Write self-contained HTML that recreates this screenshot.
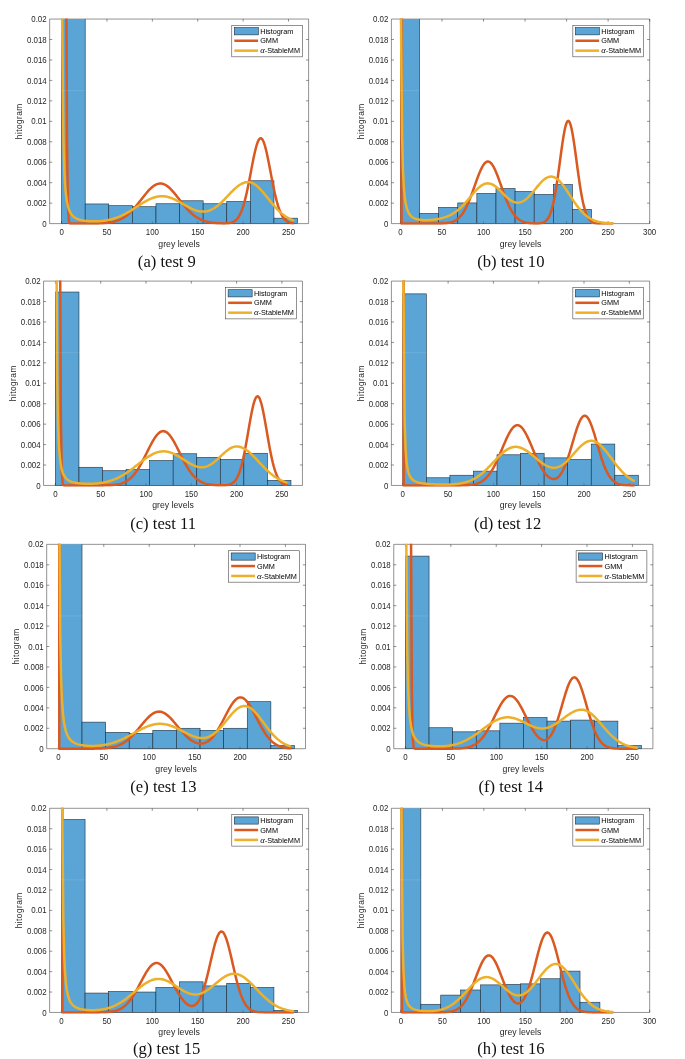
<!DOCTYPE html>
<html lang="en"><head><meta charset="utf-8"><title>Histogram fits: GMM vs alpha-Stable MM</title>
<style>
html,body{margin:0;padding:0;background:#fff}
body{width:685px;height:1059px;overflow:hidden}
svg{display:block}
text{fill:#262626;font-family:"Liberation Sans",Arial,Helvetica,sans-serif}
.tk{font-size:8.4px}
.lb{font-size:8.7px}
.yl{font-size:8.4px;letter-spacing:0.42px}
.lg text{font-size:7.3px;fill:#000}
.al{font-family:"Liberation Serif","DejaVu Serif",serif;font-style:italic;font-size:8.6px}
.cap{font-family:"Liberation Serif","Times New Roman",serif;font-size:16.6px;fill:#111}
</style></head><body>
<svg width="685" height="1059" viewBox="0 0 685 1059">
<rect width="685" height="1059" fill="#fff"/>
<g id="plot-a">
<clipPath id="cpa"><rect x="49.65" y="19.05" width="258.95" height="204.55"/></clipPath>
<clipPath id="cqa"><rect x="48.65" y="18.45" width="260.95" height="206.35"/></clipPath>
<path d="M49.65 19.05H308.6V223.6H49.65ZM61.6 223.6v-2.6M61.6 19.05v2.6M106.97 223.6v-2.6M106.97 19.05v2.6M152.35 223.6v-2.6M152.35 19.05v2.6M197.72 223.6v-2.6M197.72 19.05v2.6M243.1 223.6v-2.6M243.1 19.05v2.6M288.48 223.6v-2.6M288.48 19.05v2.6M49.65 203.14h2.6M308.6 203.14h-2.6M49.65 182.69h2.6M308.6 182.69h-2.6M49.65 162.24h2.6M308.6 162.24h-2.6M49.65 141.78h2.6M308.6 141.78h-2.6M49.65 121.33h2.6M308.6 121.33h-2.6M49.65 100.87h2.6M308.6 100.87h-2.6M49.65 80.41h2.6M308.6 80.41h-2.6M49.65 59.96h2.6M308.6 59.96h-2.6M49.65 39.51h2.6M308.6 39.51h-2.6" stroke="#262626" stroke-width="0.5" fill="none"/>
<g clip-path="url(#cpa)" fill="#5aa5d5" stroke="#1f2d3a" stroke-width="0.6">
<rect x="61.6" y="-83.22" width="23.59" height="306.82"/>
<rect x="85.19" y="203.96" width="23.59" height="19.64"/>
<rect x="108.79" y="205.7" width="23.59" height="17.9"/>
<rect x="132.38" y="206.72" width="23.59" height="16.88"/>
<rect x="155.98" y="203.76" width="23.59" height="19.84"/>
<rect x="179.57" y="200.79" width="23.59" height="22.81"/>
<rect x="203.17" y="203.76" width="23.59" height="19.84"/>
<rect x="226.76" y="201.51" width="23.59" height="22.09"/>
<rect x="250.36" y="180.75" width="23.59" height="42.85"/>
<rect x="273.95" y="218.18" width="23.6" height="5.42"/>
</g>
<path d="M61.6 223.6H297.55M61.6 223.6v-2.6M106.97 223.6v-2.6M152.35 223.6v-2.6M197.72 223.6v-2.6M243.1 223.6v-2.6M288.48 223.6v-2.6" stroke="#262626" stroke-opacity="0.45" stroke-width="0.5" fill="none"/>
<polyline clip-path="url(#cqa)" fill="none" stroke="#da5920" stroke-width="2.5" stroke-linejoin="round" stroke-linecap="round" points="61.6,-40.95 62.51,-40.95 63.41,-40.95 64.32,-40.95 65.23,-40.95 66.14,-40.95 67.05,144.86 67.95,208.1 68.86,221.22 69.77,223.32 70.67,223.57 71.58,223.6 72.49,223.6 73.4,223.6 74.31,223.6 75.21,223.6 76.12,223.6 77.03,223.6 77.94,223.6 78.84,223.6 79.75,223.6 80.66,223.59 81.56,223.59 82.47,223.59 83.38,223.59 84.29,223.59 85.19,223.59 86.1,223.58 87.01,223.58 87.92,223.57 88.83,223.57 89.73,223.56 90.64,223.56 91.55,223.55 92.45,223.54 93.36,223.53 94.27,223.51 95.18,223.5 96.09,223.48 96.99,223.46 97.9,223.43 98.81,223.4 99.72,223.37 100.62,223.33 101.53,223.29 102.44,223.24 103.34,223.18 104.25,223.11 105.16,223.04 106.07,222.96 106.97,222.86 107.88,222.76 108.79,222.64 109.7,222.5 110.6,222.35 111.51,222.19 112.42,222 113.33,221.8 114.23,221.57 115.14,221.32 116.05,221.04 116.96,220.74 117.87,220.41 118.77,220.05 119.68,219.66 120.59,219.23 121.5,218.77 122.4,218.28 123.31,217.74 124.22,217.17 125.12,216.56 126.03,215.91 126.94,215.22 127.85,214.48 128.75,213.71 129.66,212.89 130.57,212.04 131.48,211.14 132.38,210.21 133.29,209.23 134.2,208.23 135.11,207.19 136.01,206.12 136.92,205.02 137.83,203.9 138.74,202.77 139.65,201.61 140.55,200.45 141.46,199.28 142.37,198.11 143.28,196.95 144.18,195.8 145.09,194.67 146,193.56 146.91,192.47 147.81,191.43 148.72,190.42 149.63,189.47 150.53,188.56 151.44,187.72 152.35,186.94 153.26,186.23 154.16,185.59 155.07,185.04 155.98,184.56 156.89,184.17 157.79,183.87 158.7,183.66 159.61,183.54 160.52,183.51 161.43,183.57 162.33,183.73 163.24,183.98 164.15,184.32 165.06,184.74 165.96,185.25 166.87,185.84 167.78,186.51 168.69,187.24 169.59,188.05 170.5,188.92 171.41,189.84 172.31,190.82 173.22,191.84 174.13,192.9 175.04,194 175.94,195.12 176.85,196.26 177.76,197.42 178.67,198.58 179.57,199.75 180.48,200.92 181.39,202.08 182.3,203.22 183.2,204.35 184.11,205.46 185.02,206.55 185.93,207.61 186.84,208.63 187.74,209.63 188.65,210.58 189.56,211.5 190.47,212.38 191.37,213.22 192.28,214.02 193.19,214.78 194.09,215.5 195,216.18 195.91,216.81 196.82,217.41 197.72,217.96 198.63,218.48 199.54,218.96 200.45,219.41 201.35,219.82 202.26,220.2 203.17,220.55 204.08,220.86 204.98,221.16 205.89,221.42 206.8,221.66 207.71,221.88 208.61,222.08 209.52,222.26 210.43,222.41 211.34,222.56 212.24,222.69 213.15,222.8 214.06,222.9 214.97,222.99 215.88,223.07 216.78,223.14 217.69,223.2 218.6,223.25 219.5,223.29 220.41,223.33 221.32,223.36 222.23,223.38 223.13,223.39 224.04,223.39 224.95,223.38 225.86,223.35 226.76,223.31 227.67,223.24 228.58,223.15 229.49,223.02 230.39,222.84 231.3,222.62 232.21,222.32 233.12,221.95 234.02,221.48 234.93,220.89 235.84,220.17 236.75,219.28 237.66,218.22 238.56,216.94 239.47,215.43 240.38,213.66 241.28,211.6 242.19,209.25 243.1,206.58 244.01,203.59 244.91,200.27 245.82,196.64 246.73,192.7 247.64,188.49 248.54,184.05 249.45,179.42 250.36,174.68 251.27,169.88 252.17,165.13 253.08,160.49 253.99,156.07 254.9,151.95 255.8,148.23 256.71,145 257.62,142.33 258.53,140.28 259.44,138.91 260.34,138.26 261.25,138.33 262.16,139.13 263.06,140.64 263.97,142.82 264.88,145.61 265.79,148.94 266.69,152.75 267.6,156.93 268.51,161.4 269.42,166.07 270.32,170.84 271.23,175.63 272.14,180.36 273.05,184.95 273.95,189.35 274.86,193.51 275.77,197.39 276.68,200.97 277.58,204.22 278.49,207.15 279.4,209.75 280.31,212.04 281.21,214.04 282.12,215.76 283.03,217.22 283.94,218.46 284.85,219.49 285.75,220.34 286.66,221.04 287.57,221.6 288.48,222.06 289.38,222.42 290.29,222.7 291.2,222.92 292.11,223.1 293.01,223.23"/>
<polyline clip-path="url(#cqa)" fill="none" stroke="#ecb02b" stroke-width="2.5" stroke-linejoin="round" stroke-linecap="round" points="61.6,-40.95 62.51,53.62 63.41,138.58 64.32,170.82 65.23,186.93 66.14,196.28 67.05,202.26 67.95,206.35 68.86,209.3 69.77,211.49 70.67,213.18 71.58,214.51 72.49,215.58 73.4,216.45 74.31,217.17 75.21,217.78 76.12,218.29 77.03,218.73 77.94,219.11 78.84,219.44 79.75,219.72 80.66,219.97 81.56,220.19 82.47,220.38 83.38,220.55 84.29,220.69 85.19,220.82 86.1,220.93 87.01,221.03 87.92,221.11 88.83,221.18 89.73,221.24 90.64,221.29 91.55,221.32 92.45,221.34 93.36,221.36 94.27,221.36 95.18,221.35 96.09,221.33 96.99,221.3 97.9,221.26 98.81,221.22 99.72,221.15 100.62,221.08 101.53,221 102.44,220.91 103.34,220.8 104.25,220.68 105.16,220.55 106.07,220.41 106.97,220.25 107.88,220.08 108.79,219.89 109.7,219.69 110.6,219.48 111.51,219.25 112.42,219.01 113.33,218.74 114.23,218.47 115.14,218.18 116.05,217.87 116.96,217.54 117.87,217.2 118.77,216.84 119.68,216.47 120.59,216.07 121.5,215.67 122.4,215.24 123.31,214.8 124.22,214.35 125.12,213.87 126.03,213.39 126.94,212.89 127.85,212.38 128.75,211.85 129.66,211.31 130.57,210.77 131.48,210.21 132.38,209.64 133.29,209.07 134.2,208.49 135.11,207.9 136.01,207.32 136.92,206.73 137.83,206.14 138.74,205.55 139.65,204.96 140.55,204.38 141.46,203.81 142.37,203.24 143.28,202.69 144.18,202.15 145.09,201.62 146,201.1 146.91,200.6 147.81,200.12 148.72,199.67 149.63,199.23 150.53,198.82 151.44,198.43 152.35,198.07 153.26,197.74 154.16,197.44 155.07,197.17 155.98,196.93 156.89,196.73 157.79,196.55 158.7,196.41 159.61,196.31 160.52,196.24 161.43,196.21 162.33,196.21 163.24,196.24 164.15,196.31 165.06,196.42 165.96,196.56 166.87,196.74 167.78,196.94 168.69,197.18 169.59,197.45 170.5,197.75 171.41,198.08 172.31,198.43 173.22,198.81 174.13,199.21 175.04,199.63 175.94,200.08 176.85,200.54 177.76,201.02 178.67,201.51 179.57,202.01 180.48,202.52 181.39,203.04 182.3,203.57 183.2,204.09 184.11,204.62 185.02,205.14 185.93,205.66 186.84,206.17 187.74,206.67 188.65,207.16 189.56,207.64 190.47,208.1 191.37,208.54 192.28,208.96 193.19,209.36 194.09,209.73 195,210.07 195.91,210.38 196.82,210.67 197.72,210.91 198.63,211.13 199.54,211.31 200.45,211.44 201.35,211.54 202.26,211.6 203.17,211.62 204.08,211.59 204.98,211.51 205.89,211.39 206.8,211.23 207.71,211.02 208.61,210.76 209.52,210.45 210.43,210.1 211.34,209.7 212.24,209.25 213.15,208.76 214.06,208.22 214.97,207.64 215.88,207.01 216.78,206.34 217.69,205.64 218.6,204.89 219.5,204.12 220.41,203.3 221.32,202.46 222.23,201.59 223.13,200.7 224.04,199.79 224.95,198.86 225.86,197.92 226.76,196.96 227.67,196.01 228.58,195.05 229.49,194.09 230.39,193.15 231.3,192.21 232.21,191.29 233.12,190.39 234.02,189.52 234.93,188.68 235.84,187.87 236.75,187.1 237.66,186.38 238.56,185.69 239.47,185.06 240.38,184.49 241.28,183.96 242.19,183.5 243.1,183.1 244.01,182.77 244.91,182.5 245.82,182.3 246.73,182.17 247.64,182.11 248.54,182.12 249.45,182.21 250.36,182.39 251.27,182.65 252.17,182.99 253.08,183.42 253.99,183.91 254.9,184.49 255.8,185.13 256.71,185.84 257.62,186.61 258.53,187.44 259.44,188.33 260.34,189.26 261.25,190.24 262.16,191.26 263.06,192.31 263.97,193.39 264.88,194.49 265.79,195.61 266.69,196.74 267.6,197.87 268.51,199.01 269.42,200.15 270.32,201.28 271.23,202.4 272.14,203.51 273.05,204.59 273.95,205.66 274.86,206.7 275.77,207.71 276.68,208.69 277.58,209.64 278.49,210.55 279.4,211.43 280.31,212.28 281.21,213.08 282.12,213.85 283.03,214.58 283.94,215.27 284.85,215.93 285.75,216.55 286.66,217.13 287.57,217.67 288.48,218.18 289.38,218.65 290.29,219.1 291.2,219.51 292.11,219.89 293.01,220.24"/>
<path d="M60.6 90.65h25.09" stroke="#fff" stroke-opacity="0.16" stroke-width="0.7"/>
<text class="tk" text-anchor="middle" transform="translate(61.6 234.8) scale(0.94 1)">0</text>
<text class="tk" text-anchor="middle" transform="translate(106.97 234.8) scale(0.94 1)">50</text>
<text class="tk" text-anchor="middle" transform="translate(152.35 234.8) scale(0.94 1)">100</text>
<text class="tk" text-anchor="middle" transform="translate(197.72 234.8) scale(0.94 1)">150</text>
<text class="tk" text-anchor="middle" transform="translate(243.1 234.8) scale(0.94 1)">200</text>
<text class="tk" text-anchor="middle" transform="translate(288.48 234.8) scale(0.94 1)">250</text>
<text class="tk" text-anchor="end" transform="translate(46.65 226.7) scale(0.94 1)">0</text>
<text class="tk" text-anchor="end" transform="translate(46.65 206.24) scale(0.94 1)">0.002</text>
<text class="tk" text-anchor="end" transform="translate(46.65 185.79) scale(0.94 1)">0.004</text>
<text class="tk" text-anchor="end" transform="translate(46.65 165.34) scale(0.94 1)">0.006</text>
<text class="tk" text-anchor="end" transform="translate(46.65 144.88) scale(0.94 1)">0.008</text>
<text class="tk" text-anchor="end" transform="translate(46.65 124.42) scale(0.94 1)">0.01</text>
<text class="tk" text-anchor="end" transform="translate(46.65 103.97) scale(0.94 1)">0.012</text>
<text class="tk" text-anchor="end" transform="translate(46.65 83.51) scale(0.94 1)">0.014</text>
<text class="tk" text-anchor="end" transform="translate(46.65 63.06) scale(0.94 1)">0.016</text>
<text class="tk" text-anchor="end" transform="translate(46.65 42.61) scale(0.94 1)">0.018</text>
<text class="tk" text-anchor="end" transform="translate(46.65 22.15) scale(0.94 1)">0.02</text>
<text class="lb" text-anchor="middle" x="179.12" y="246.5">grey levels</text>
<text class="lb yl" text-anchor="middle" transform="translate(22.05 121.23) rotate(-90)">hitogram</text>
<rect x="231.8" y="25.45" width="70.8" height="31.4" fill="#fff" stroke="#262626" stroke-width="0.5"/>
<rect x="234.3" y="27.65" width="24" height="7.2" fill="#5aa5d5" stroke="#1f2d3a" stroke-width="0.6"/>
<path d="M234.3 40.75h23.8" stroke="#da5920" stroke-width="2.5"/>
<path d="M234.3 50.65h23.8" stroke="#ecb02b" stroke-width="2.5"/>
<g class="lg"><text x="260.2" y="33.75">Histogram</text><text x="260.2" y="43.25">GMM</text><text x="260.2" y="53.25"><tspan class="al">α</tspan>-StableMM</text></g>
<text class="cap" text-anchor="middle" x="166.9" y="266.5">(a) test 9</text>
</g>
<g id="plot-b">
<clipPath id="cpb"><rect x="391.4" y="19.05" width="258.26" height="204.55"/></clipPath>
<clipPath id="cqb"><rect x="390.4" y="18.45" width="260.26" height="206.35"/></clipPath>
<path d="M391.4 19.05H649.66V223.6H391.4ZM400.45 223.6v-2.6M400.45 19.05v2.6M441.99 223.6v-2.6M441.99 19.05v2.6M483.52 223.6v-2.6M483.52 19.05v2.6M525.05 223.6v-2.6M525.05 19.05v2.6M566.59 223.6v-2.6M566.59 19.05v2.6M608.12 223.6v-2.6M608.12 19.05v2.6M649.66 223.6v-2.6M649.66 19.05v2.6M391.4 203.14h2.6M649.66 203.14h-2.6M391.4 182.69h2.6M649.66 182.69h-2.6M391.4 162.24h2.6M649.66 162.24h-2.6M391.4 141.78h2.6M649.66 141.78h-2.6M391.4 121.33h2.6M649.66 121.33h-2.6M391.4 100.87h2.6M649.66 100.87h-2.6M391.4 80.41h2.6M649.66 80.41h-2.6M391.4 59.96h2.6M649.66 59.96h-2.6M391.4 39.51h2.6M649.66 39.51h-2.6" stroke="#262626" stroke-width="0.5" fill="none"/>
<g clip-path="url(#cpb)" fill="#5aa5d5" stroke="#1f2d3a" stroke-width="0.6">
<rect x="400.45" y="-83.22" width="19.11" height="306.82"/>
<rect x="419.56" y="213.47" width="19.11" height="10.13"/>
<rect x="438.66" y="207.44" width="19.11" height="16.16"/>
<rect x="457.77" y="202.94" width="19.11" height="20.66"/>
<rect x="476.87" y="193.43" width="19.11" height="30.17"/>
<rect x="495.98" y="188.52" width="19.11" height="35.08"/>
<rect x="515.09" y="191.49" width="19.11" height="32.11"/>
<rect x="534.19" y="194.45" width="19.11" height="29.15"/>
<rect x="553.3" y="184.53" width="19.11" height="39.07"/>
<rect x="572.4" y="209.38" width="19.11" height="14.22"/>
</g>
<path d="M400.45 223.6H591.51M400.45 223.6v-2.6M441.99 223.6v-2.6M483.52 223.6v-2.6M525.05 223.6v-2.6M566.59 223.6v-2.6" stroke="#262626" stroke-opacity="0.45" stroke-width="0.5" fill="none"/>
<polyline clip-path="url(#cqb)" fill="none" stroke="#da5920" stroke-width="2.5" stroke-linejoin="round" stroke-linecap="round" points="401.5,-40.95 401.53,223.6 402.94,223.6 403.77,223.6 404.6,223.6 405.43,223.6 406.26,223.6 407.1,223.6 407.93,223.6 408.76,223.6 409.59,223.6 410.42,223.6 411.25,223.6 412.08,223.6 412.91,223.6 413.74,223.6 414.57,223.6 415.4,223.6 416.23,223.6 417.06,223.6 417.89,223.6 418.73,223.6 419.56,223.6 420.39,223.6 421.22,223.6 422.05,223.6 422.88,223.6 423.71,223.6 424.54,223.6 425.37,223.6 426.2,223.6 427.03,223.6 427.86,223.6 428.69,223.6 429.52,223.6 430.36,223.59 431.19,223.59 432.02,223.59 432.85,223.59 433.68,223.59 434.51,223.58 435.34,223.58 436.17,223.57 437,223.56 437.83,223.55 438.66,223.54 439.49,223.52 440.32,223.5 441.15,223.47 441.99,223.44 442.82,223.4 443.65,223.36 444.48,223.3 445.31,223.24 446.14,223.16 446.97,223.06 447.8,222.95 448.63,222.81 449.46,222.66 450.29,222.47 451.12,222.26 451.95,222.01 452.78,221.72 453.61,221.38 454.45,221 455.28,220.56 456.11,220.06 456.94,219.5 457.77,218.87 458.6,218.16 459.43,217.36 460.26,216.48 461.09,215.51 461.92,214.44 462.75,213.27 463.58,211.99 464.41,210.61 465.24,209.12 466.08,207.52 466.91,205.82 467.74,204.01 468.57,202.1 469.4,200.1 470.23,198.01 471.06,195.84 471.89,193.61 472.72,191.32 473.55,189 474.38,186.65 475.21,184.3 476.04,181.96 476.87,179.65 477.71,177.4 478.54,175.22 479.37,173.14 480.2,171.17 481.03,169.33 481.86,167.66 482.69,166.15 483.52,164.83 484.35,163.72 485.18,162.83 486.01,162.16 486.84,161.72 487.67,161.53 488.5,161.58 489.33,161.87 490.17,162.4 491,163.16 491.83,164.14 492.66,165.34 493.49,166.73 494.32,168.31 495.15,170.05 495.98,171.94 496.81,173.96 497.64,176.08 498.47,178.29 499.3,180.57 500.13,182.89 500.96,185.24 501.8,187.59 502.63,189.93 503.46,192.24 504.29,194.51 505.12,196.72 505.95,198.85 506.78,200.91 507.61,202.87 508.44,204.74 509.27,206.51 510.1,208.17 510.93,209.73 511.76,211.18 512.59,212.51 513.43,213.75 514.26,214.88 515.09,215.91 515.92,216.84 516.75,217.69 517.58,218.45 518.41,219.13 519.24,219.73 520.07,220.27 520.9,220.74 521.73,221.16 522.56,221.52 523.39,221.84 524.22,222.11 525.05,222.35 525.89,222.55 526.72,222.72 527.55,222.87 528.38,222.99 529.21,223.1 530.04,223.19 530.87,223.26 531.7,223.32 532.53,223.37 533.36,223.4 534.19,223.43 535.02,223.45 535.85,223.46 536.68,223.45 537.52,223.43 538.35,223.4 539.18,223.34 540.01,223.25 540.84,223.13 541.67,222.97 542.5,222.74 543.33,222.45 544.16,222.06 544.99,221.55 545.82,220.91 546.65,220.1 547.48,219.08 548.31,217.83 549.15,216.3 549.98,214.46 550.81,212.27 551.64,209.69 552.47,206.69 553.3,203.26 554.13,199.37 554.96,195.02 555.79,190.23 556.62,185.02 557.45,179.45 558.28,173.57 559.11,167.47 559.94,161.26 560.78,155.04 561.61,148.96 562.44,143.15 563.27,137.75 564.1,132.89 564.93,128.72 565.76,125.34 566.59,122.85 567.42,121.33 568.25,120.81 569.08,121.33 569.91,122.85 570.74,125.34 571.57,128.72 572.4,132.89 573.24,137.75 574.07,143.15 574.9,148.96 575.73,155.04 576.56,161.26 577.39,167.47 578.22,173.57 579.05,179.45 579.88,185.02 580.71,190.23 581.54,195.02 582.37,199.37 583.2,203.26 584.03,206.69 584.87,209.69 585.7,212.27 586.53,214.46 587.36,216.3 588.19,217.83 589.02,219.08 589.85,220.1 590.68,220.92 591.51,221.56 592.34,222.07 593.17,222.46 594,222.76 594.83,222.99 595.66,223.16 596.5,223.28 597.33,223.38 598.16,223.44 598.99,223.49 599.82,223.52 600.65,223.55 601.48,223.57 602.31,223.58 603.14,223.58 603.97,223.59 604.8,223.59 605.63,223.6 606.46,223.6 607.29,223.6 608.12,223.6 608.96,223.6 609.79,223.6 610.62,223.6 611.45,223.6 612.28,223.6"/>
<polyline clip-path="url(#cqb)" fill="none" stroke="#ecb02b" stroke-width="2.5" stroke-linejoin="round" stroke-linecap="round" points="400.45,-40.95 401.28,51.57 402.11,136.77 402.94,169.75 403.77,186.29 404.6,195.88 405.43,202 406.26,206.16 407.1,209.13 407.93,211.34 408.76,213.02 409.59,214.34 410.42,215.38 411.25,216.23 412.08,216.92 412.91,217.49 413.74,217.97 414.57,218.37 415.4,218.71 416.23,218.99 417.06,219.23 417.89,219.43 418.73,219.6 419.56,219.75 420.39,219.86 421.22,219.96 422.05,220.04 422.88,220.09 423.71,220.14 424.54,220.16 425.37,220.18 426.2,220.18 427.03,220.17 427.86,220.15 428.69,220.11 429.52,220.07 430.36,220.01 431.19,219.95 432.02,219.87 432.85,219.79 433.68,219.69 434.51,219.59 435.34,219.47 436.17,219.34 437,219.21 437.83,219.06 438.66,218.89 439.49,218.72 440.32,218.53 441.15,218.33 441.99,218.12 442.82,217.89 443.65,217.65 444.48,217.39 445.31,217.11 446.14,216.81 446.97,216.5 447.8,216.16 448.63,215.81 449.46,215.43 450.29,215.03 451.12,214.6 451.95,214.15 452.78,213.67 453.61,213.16 454.45,212.63 455.28,212.07 456.11,211.47 456.94,210.85 457.77,210.19 458.6,209.51 459.43,208.79 460.26,208.04 461.09,207.26 461.92,206.46 462.75,205.62 463.58,204.76 464.41,203.87 465.24,202.95 466.08,202.02 466.91,201.06 467.74,200.09 468.57,199.11 469.4,198.12 470.23,197.12 471.06,196.13 471.89,195.13 472.72,194.15 473.55,193.18 474.38,192.22 475.21,191.29 476.04,190.39 476.87,189.52 477.71,188.69 478.54,187.91 479.37,187.17 480.2,186.49 481.03,185.87 481.86,185.3 482.69,184.81 483.52,184.38 484.35,184.02 485.18,183.74 486.01,183.54 486.84,183.41 487.67,183.36 488.5,183.39 489.33,183.49 490.17,183.67 491,183.93 491.83,184.25 492.66,184.65 493.49,185.11 494.32,185.63 495.15,186.21 495.98,186.84 496.81,187.52 497.64,188.24 498.47,188.99 499.3,189.78 500.13,190.58 500.96,191.41 501.8,192.24 502.63,193.08 503.46,193.92 504.29,194.75 505.12,195.56 505.95,196.35 506.78,197.12 507.61,197.85 508.44,198.55 509.27,199.21 510.1,199.82 510.93,200.38 511.76,200.89 512.59,201.33 513.43,201.72 514.26,202.04 515.09,202.3 515.92,202.49 516.75,202.61 517.58,202.66 518.41,202.63 519.24,202.54 520.07,202.37 520.9,202.13 521.73,201.83 522.56,201.45 523.39,201 524.22,200.49 525.05,199.92 525.89,199.28 526.72,198.59 527.55,197.85 528.38,197.05 529.21,196.21 530.04,195.32 530.87,194.4 531.7,193.45 532.53,192.48 533.36,191.48 534.19,190.47 535.02,189.45 535.85,188.42 536.68,187.41 537.52,186.4 538.35,185.41 539.18,184.44 540.01,183.51 540.84,182.61 541.67,181.75 542.5,180.94 543.33,180.18 544.16,179.49 544.99,178.86 545.82,178.3 546.65,177.81 547.48,177.4 548.31,177.07 549.15,176.83 549.98,176.67 550.81,176.6 551.64,176.62 552.47,176.73 553.3,176.93 554.13,177.22 554.96,177.6 555.79,178.06 556.62,178.61 557.45,179.23 558.28,179.94 559.11,180.72 559.94,181.57 560.78,182.49 561.61,183.46 562.44,184.49 563.27,185.58 564.1,186.7 564.93,187.87 565.76,189.07 566.59,190.29 567.42,191.54 568.25,192.8 569.08,194.07 569.91,195.35 570.74,196.63 571.57,197.9 572.4,199.16 573.24,200.41 574.07,201.64 574.9,202.84 575.73,204.02 576.56,205.17 577.39,206.29 578.22,207.37 579.05,208.42 579.88,209.42 580.71,210.39 581.54,211.31 582.37,212.2 583.2,213.04 584.03,213.84 584.87,214.59 585.7,215.31 586.53,215.98 587.36,216.61 588.19,217.21 589.02,217.76 589.85,218.27 590.68,218.75 591.51,219.2 592.34,219.61 593.17,219.99 594,220.34 594.83,220.66 595.66,220.95 596.5,221.22 597.33,221.47 598.16,221.69 598.99,221.89 599.82,222.08 600.65,222.24 601.48,222.39 602.31,222.53 603.14,222.65 603.97,222.75 604.8,222.85 605.63,222.93 606.46,223.01 607.29,223.08 608.12,223.14 608.96,223.19 609.79,223.24 610.62,223.28 611.45,223.31 612.28,223.35"/>
<path d="M399.45 90.65h20.61" stroke="#fff" stroke-opacity="0.16" stroke-width="0.7"/>
<text class="tk" text-anchor="middle" transform="translate(400.45 234.8) scale(0.94 1)">0</text>
<text class="tk" text-anchor="middle" transform="translate(441.99 234.8) scale(0.94 1)">50</text>
<text class="tk" text-anchor="middle" transform="translate(483.52 234.8) scale(0.94 1)">100</text>
<text class="tk" text-anchor="middle" transform="translate(525.05 234.8) scale(0.94 1)">150</text>
<text class="tk" text-anchor="middle" transform="translate(566.59 234.8) scale(0.94 1)">200</text>
<text class="tk" text-anchor="middle" transform="translate(608.12 234.8) scale(0.94 1)">250</text>
<text class="tk" text-anchor="middle" transform="translate(649.66 234.8) scale(0.94 1)">300</text>
<text class="tk" text-anchor="end" transform="translate(388.4 226.7) scale(0.94 1)">0</text>
<text class="tk" text-anchor="end" transform="translate(388.4 206.24) scale(0.94 1)">0.002</text>
<text class="tk" text-anchor="end" transform="translate(388.4 185.79) scale(0.94 1)">0.004</text>
<text class="tk" text-anchor="end" transform="translate(388.4 165.34) scale(0.94 1)">0.006</text>
<text class="tk" text-anchor="end" transform="translate(388.4 144.88) scale(0.94 1)">0.008</text>
<text class="tk" text-anchor="end" transform="translate(388.4 124.42) scale(0.94 1)">0.01</text>
<text class="tk" text-anchor="end" transform="translate(388.4 103.97) scale(0.94 1)">0.012</text>
<text class="tk" text-anchor="end" transform="translate(388.4 83.51) scale(0.94 1)">0.014</text>
<text class="tk" text-anchor="end" transform="translate(388.4 63.06) scale(0.94 1)">0.016</text>
<text class="tk" text-anchor="end" transform="translate(388.4 42.61) scale(0.94 1)">0.018</text>
<text class="tk" text-anchor="end" transform="translate(388.4 22.15) scale(0.94 1)">0.02</text>
<text class="lb" text-anchor="middle" x="520.53" y="246.5">grey levels</text>
<text class="lb yl" text-anchor="middle" transform="translate(363.8 121.23) rotate(-90)">hitogram</text>
<rect x="572.86" y="25.45" width="70.8" height="31.4" fill="#fff" stroke="#262626" stroke-width="0.5"/>
<rect x="575.36" y="27.65" width="24" height="7.2" fill="#5aa5d5" stroke="#1f2d3a" stroke-width="0.6"/>
<path d="M575.36 40.75h23.8" stroke="#da5920" stroke-width="2.5"/>
<path d="M575.36 50.65h23.8" stroke="#ecb02b" stroke-width="2.5"/>
<g class="lg"><text x="601.26" y="33.75">Histogram</text><text x="601.26" y="43.25">GMM</text><text x="601.26" y="53.25"><tspan class="al">α</tspan>-StableMM</text></g>
<text class="cap" text-anchor="middle" x="510.8" y="266.5">(b) test 10</text>
</g>
<g id="plot-c">
<clipPath id="cpc"><rect x="43.55" y="281.1" width="258.9" height="204.35"/></clipPath>
<clipPath id="cqc"><rect x="42.55" y="280.5" width="260.9" height="206.15"/></clipPath>
<path d="M43.55 281.1H302.45V485.45H43.55ZM55.4 485.45v-2.6M55.4 281.1v2.6M100.7 485.45v-2.6M100.7 281.1v2.6M146 485.45v-2.6M146 281.1v2.6M191.3 485.45v-2.6M191.3 281.1v2.6M236.6 485.45v-2.6M236.6 281.1v2.6M281.9 485.45v-2.6M281.9 281.1v2.6M43.55 465.01h2.6M302.45 465.01h-2.6M43.55 444.58h2.6M302.45 444.58h-2.6M43.55 424.14h2.6M302.45 424.14h-2.6M43.55 403.71h2.6M302.45 403.71h-2.6M43.55 383.27h2.6M302.45 383.27h-2.6M43.55 362.84h2.6M302.45 362.84h-2.6M43.55 342.4h2.6M302.45 342.4h-2.6M43.55 321.97h2.6M302.45 321.97h-2.6M43.55 301.54h2.6M302.45 301.54h-2.6" stroke="#262626" stroke-width="0.5" fill="none"/>
<g clip-path="url(#cpc)" fill="#5aa5d5" stroke="#1f2d3a" stroke-width="0.6">
<rect x="55.4" y="292.03" width="23.56" height="193.42"/>
<rect x="78.96" y="467.26" width="23.56" height="18.19"/>
<rect x="102.51" y="470.74" width="23.56" height="14.71"/>
<rect x="126.07" y="469.51" width="23.56" height="15.94"/>
<rect x="149.62" y="460.52" width="23.56" height="24.93"/>
<rect x="173.18" y="453.78" width="23.56" height="31.67"/>
<rect x="196.74" y="457.35" width="23.56" height="28.1"/>
<rect x="220.29" y="459.4" width="23.56" height="26.05"/>
<rect x="243.85" y="453.26" width="23.56" height="32.19"/>
<rect x="267.4" y="480.34" width="23.56" height="5.11"/>
</g>
<path d="M55.4 485.45H290.96M55.4 485.45v-2.6M100.7 485.45v-2.6M146 485.45v-2.6M191.3 485.45v-2.6M236.6 485.45v-2.6M281.9 485.45v-2.6" stroke="#262626" stroke-opacity="0.45" stroke-width="0.5" fill="none"/>
<polyline clip-path="url(#cqc)" fill="none" stroke="#da5920" stroke-width="2.5" stroke-linejoin="round" stroke-linecap="round" points="55.4,221.1 56.31,221.1 57.21,221.1 58.12,221.1 59.02,221.1 59.93,221.1 60.84,417.83 61.74,472.46 62.65,483.51 63.55,485.22 64.46,485.43 65.37,485.45 66.27,485.45 67.18,485.45 68.08,485.45 68.99,485.45 69.9,485.45 70.8,485.45 71.71,485.45 72.61,485.45 73.52,485.45 74.43,485.45 75.33,485.45 76.24,485.45 77.14,485.45 78.05,485.45 78.96,485.45 79.86,485.45 80.77,485.45 81.67,485.45 82.58,485.45 83.49,485.45 84.39,485.45 85.3,485.45 86.2,485.45 87.11,485.45 88.02,485.45 88.92,485.45 89.83,485.45 90.73,485.45 91.64,485.45 92.55,485.45 93.45,485.44 94.36,485.44 95.26,485.44 96.17,485.44 97.08,485.44 97.98,485.43 98.89,485.43 99.79,485.42 100.7,485.41 101.61,485.41 102.51,485.4 103.42,485.38 104.32,485.37 105.23,485.35 106.14,485.33 107.04,485.31 107.95,485.28 108.85,485.24 109.76,485.2 110.67,485.15 111.57,485.09 112.48,485.02 113.38,484.94 114.29,484.85 115.2,484.74 116.1,484.61 117.01,484.47 117.91,484.3 118.82,484.11 119.73,483.9 120.63,483.65 121.54,483.37 122.44,483.06 123.35,482.71 124.26,482.32 125.16,481.88 126.07,481.39 126.97,480.85 127.88,480.25 128.79,479.6 129.69,478.88 130.6,478.09 131.5,477.24 132.41,476.32 133.32,475.32 134.22,474.26 135.13,473.11 136.03,471.9 136.94,470.6 137.85,469.24 138.75,467.8 139.66,466.3 140.56,464.73 141.47,463.1 142.38,461.42 143.28,459.69 144.19,457.93 145.09,456.13 146,454.31 146.91,452.48 147.81,450.65 148.72,448.83 149.62,447.04 150.53,445.28 151.44,443.57 152.34,441.92 153.25,440.35 154.15,438.87 155.06,437.48 155.97,436.2 156.87,435.05 157.78,434.03 158.68,433.15 159.59,432.42 160.5,431.84 161.4,431.43 162.31,431.18 163.21,431.09 164.12,431.18 165.03,431.43 165.93,431.84 166.84,432.42 167.74,433.15 168.65,434.03 169.56,435.05 170.46,436.2 171.37,437.48 172.27,438.87 173.18,440.35 174.09,441.92 174.99,443.57 175.9,445.28 176.8,447.04 177.71,448.83 178.62,450.65 179.52,452.48 180.43,454.31 181.33,456.13 182.24,457.93 183.15,459.69 184.05,461.42 184.96,463.1 185.86,464.73 186.77,466.3 187.68,467.8 188.58,469.24 189.49,470.6 190.39,471.9 191.3,473.11 192.21,474.26 193.11,475.32 194.02,476.32 194.92,477.24 195.83,478.09 196.74,478.88 197.64,479.6 198.55,480.25 199.45,480.85 200.36,481.39 201.27,481.88 202.17,482.32 203.08,482.71 203.98,483.06 204.89,483.37 205.8,483.65 206.7,483.9 207.61,484.11 208.51,484.3 209.42,484.47 210.33,484.61 211.23,484.74 212.14,484.85 213.04,484.94 213.95,485.02 214.86,485.09 215.76,485.14 216.67,485.19 217.57,485.23 218.48,485.26 219.39,485.29 220.29,485.3 221.2,485.31 222.1,485.31 223.01,485.3 223.92,485.28 224.82,485.24 225.73,485.18 226.63,485.09 227.54,484.97 228.45,484.8 229.35,484.58 230.26,484.29 231.16,483.92 232.07,483.44 232.98,482.83 233.88,482.07 234.79,481.13 235.69,479.98 236.6,478.58 237.51,476.92 238.41,474.95 239.32,472.65 240.22,470 241.13,466.97 242.04,463.57 242.94,459.78 243.85,455.63 244.75,451.14 245.66,446.35 246.57,441.32 247.47,436.11 248.38,430.82 249.28,425.54 250.19,420.37 251.1,415.44 252,410.86 252.91,406.73 253.81,403.17 254.72,400.28 255.63,398.12 256.53,396.77 257.44,396.26 258.34,396.6 259.25,397.79 260.16,399.78 261.06,402.54 261.97,405.97 262.87,409.99 263.78,414.49 264.69,419.37 265.59,424.49 266.5,429.76 267.4,435.06 268.31,440.29 269.22,445.36 270.12,450.2 271.03,454.76 271.93,458.98 272.84,462.84 273.75,466.32 274.65,469.42 275.56,472.15 276.46,474.52 277.37,476.55 278.28,478.27 279.18,479.72 280.09,480.92 280.99,481.9 281.9,482.7 282.81,483.33 283.71,483.84 284.62,484.24 285.52,484.54 286.43,484.78"/>
<polyline clip-path="url(#cqc)" fill="none" stroke="#ecb02b" stroke-width="2.5" stroke-linejoin="round" stroke-linecap="round" points="55.4,221.1 56.31,221.1 57.21,380.06 58.12,427.02 59.02,447.52 59.93,458.49 60.84,465.11 61.74,469.45 62.65,472.47 63.55,474.67 64.46,476.32 65.37,477.59 66.27,478.6 67.18,479.41 68.08,480.08 68.99,480.63 69.9,481.09 70.8,481.48 71.71,481.82 72.61,482.11 73.52,482.36 74.43,482.57 75.33,482.76 76.24,482.93 77.14,483.07 78.05,483.2 78.96,483.31 79.86,483.41 80.77,483.49 81.67,483.56 82.58,483.62 83.49,483.68 84.39,483.72 85.3,483.75 86.2,483.77 87.11,483.79 88.02,483.8 88.92,483.79 89.83,483.78 90.73,483.77 91.64,483.74 92.55,483.7 93.45,483.66 94.36,483.61 95.26,483.55 96.17,483.48 97.08,483.39 97.98,483.3 98.89,483.2 99.79,483.09 100.7,482.96 101.61,482.83 102.51,482.68 103.42,482.52 104.32,482.34 105.23,482.15 106.14,481.95 107.04,481.73 107.95,481.5 108.85,481.25 109.76,480.99 110.67,480.71 111.57,480.41 112.48,480.09 113.38,479.76 114.29,479.41 115.2,479.04 116.1,478.65 117.01,478.24 117.91,477.82 118.82,477.37 119.73,476.91 120.63,476.43 121.54,475.93 122.44,475.41 123.35,474.87 124.26,474.32 125.16,473.75 126.07,473.16 126.97,472.55 127.88,471.93 128.79,471.3 129.69,470.65 130.6,469.99 131.5,469.32 132.41,468.63 133.32,467.94 134.22,467.24 135.13,466.54 136.03,465.83 136.94,465.11 137.85,464.4 138.75,463.69 139.66,462.97 140.56,462.27 141.47,461.56 142.38,460.87 143.28,460.19 144.19,459.51 145.09,458.86 146,458.21 146.91,457.59 147.81,456.98 148.72,456.4 149.62,455.84 150.53,455.31 151.44,454.8 152.34,454.32 153.25,453.88 154.15,453.46 155.06,453.08 155.97,452.73 156.87,452.43 157.78,452.15 158.68,451.92 159.59,451.72 160.5,451.57 161.4,451.45 162.31,451.38 163.21,451.34 164.12,451.35 165.03,451.4 165.93,451.48 166.84,451.61 167.74,451.78 168.65,451.98 169.56,452.23 170.46,452.5 171.37,452.82 172.27,453.17 173.18,453.55 174.09,453.95 174.99,454.39 175.9,454.86 176.8,455.34 177.71,455.85 178.62,456.38 179.52,456.93 180.43,457.49 181.33,458.06 182.24,458.64 183.15,459.22 184.05,459.81 184.96,460.39 185.86,460.98 186.77,461.55 187.68,462.12 188.58,462.67 189.49,463.21 190.39,463.72 191.3,464.21 192.21,464.68 193.11,465.12 194.02,465.52 194.92,465.89 195.83,466.22 196.74,466.51 197.64,466.76 198.55,466.96 199.45,467.12 200.36,467.22 201.27,467.27 202.17,467.27 203.08,467.21 203.98,467.1 204.89,466.93 205.8,466.7 206.7,466.42 207.61,466.08 208.51,465.69 209.42,465.24 210.33,464.74 211.23,464.19 212.14,463.59 213.04,462.94 213.95,462.25 214.86,461.53 215.76,460.77 216.67,459.98 217.57,459.17 218.48,458.34 219.39,457.49 220.29,456.63 221.2,455.77 222.1,454.92 223.01,454.07 223.92,453.24 224.82,452.44 225.73,451.66 226.63,450.91 227.54,450.2 228.45,449.55 229.35,448.94 230.26,448.39 231.16,447.9 232.07,447.47 232.98,447.12 233.88,446.84 234.79,446.63 235.69,446.5 236.6,446.46 237.51,446.49 238.41,446.59 239.32,446.76 240.22,446.98 241.13,447.27 242.04,447.61 242.94,448.02 243.85,448.48 244.75,448.99 245.66,449.56 246.57,450.18 247.47,450.84 248.38,451.56 249.28,452.31 250.19,453.1 251.1,453.92 252,454.78 252.91,455.66 253.81,456.57 254.72,457.5 255.63,458.44 256.53,459.4 257.44,460.36 258.34,461.33 259.25,462.31 260.16,463.28 261.06,464.25 261.97,465.21 262.87,466.16 263.78,467.1 264.69,468.02 265.59,468.92 266.5,469.8 267.4,470.67 268.31,471.5 269.22,472.32 270.12,473.1 271.03,473.86 271.93,474.6 272.84,475.3 273.75,475.97 274.65,476.61 275.56,477.23 276.46,477.81 277.37,478.37 278.28,478.89 279.18,479.39 280.09,479.86 280.99,480.3 281.9,480.71 282.81,481.1 283.71,481.46 284.62,481.8 285.52,482.12 286.43,482.41"/>
<path d="M54.4 352.7h25.06" stroke="#fff" stroke-opacity="0.16" stroke-width="0.7"/>
<text class="tk" text-anchor="middle" transform="translate(55.4 496.65) scale(0.94 1)">0</text>
<text class="tk" text-anchor="middle" transform="translate(100.7 496.65) scale(0.94 1)">50</text>
<text class="tk" text-anchor="middle" transform="translate(146 496.65) scale(0.94 1)">100</text>
<text class="tk" text-anchor="middle" transform="translate(191.3 496.65) scale(0.94 1)">150</text>
<text class="tk" text-anchor="middle" transform="translate(236.6 496.65) scale(0.94 1)">200</text>
<text class="tk" text-anchor="middle" transform="translate(281.9 496.65) scale(0.94 1)">250</text>
<text class="tk" text-anchor="end" transform="translate(40.55 488.55) scale(0.94 1)">0</text>
<text class="tk" text-anchor="end" transform="translate(40.55 468.12) scale(0.94 1)">0.002</text>
<text class="tk" text-anchor="end" transform="translate(40.55 447.68) scale(0.94 1)">0.004</text>
<text class="tk" text-anchor="end" transform="translate(40.55 427.25) scale(0.94 1)">0.006</text>
<text class="tk" text-anchor="end" transform="translate(40.55 406.81) scale(0.94 1)">0.008</text>
<text class="tk" text-anchor="end" transform="translate(40.55 386.38) scale(0.94 1)">0.01</text>
<text class="tk" text-anchor="end" transform="translate(40.55 365.94) scale(0.94 1)">0.012</text>
<text class="tk" text-anchor="end" transform="translate(40.55 345.5) scale(0.94 1)">0.014</text>
<text class="tk" text-anchor="end" transform="translate(40.55 325.07) scale(0.94 1)">0.016</text>
<text class="tk" text-anchor="end" transform="translate(40.55 304.64) scale(0.94 1)">0.018</text>
<text class="tk" text-anchor="end" transform="translate(40.55 284.2) scale(0.94 1)">0.02</text>
<text class="lb" text-anchor="middle" x="173" y="508.35">grey levels</text>
<text class="lb yl" text-anchor="middle" transform="translate(15.95 383.17) rotate(-90)">hitogram</text>
<rect x="225.65" y="287.5" width="70.8" height="31.4" fill="#fff" stroke="#262626" stroke-width="0.5"/>
<rect x="228.15" y="289.7" width="24" height="7.2" fill="#5aa5d5" stroke="#1f2d3a" stroke-width="0.6"/>
<path d="M228.15 302.8h23.8" stroke="#da5920" stroke-width="2.5"/>
<path d="M228.15 312.7h23.8" stroke="#ecb02b" stroke-width="2.5"/>
<g class="lg"><text x="254.05" y="295.8">Histogram</text><text x="254.05" y="305.3">GMM</text><text x="254.05" y="315.3"><tspan class="al">α</tspan>-StableMM</text></g>
<text class="cap" text-anchor="middle" x="163.1" y="528.5">(c) test 11</text>
</g>
<g id="plot-d">
<clipPath id="cpd"><rect x="391.4" y="281.1" width="258.26" height="204.35"/></clipPath>
<clipPath id="cqd"><rect x="390.4" y="280.5" width="260.26" height="206.15"/></clipPath>
<path d="M391.4 281.1H649.66V485.45H391.4ZM402.8 485.45v-2.6M402.8 281.1v2.6M448.1 485.45v-2.6M448.1 281.1v2.6M493.4 485.45v-2.6M493.4 281.1v2.6M538.7 485.45v-2.6M538.7 281.1v2.6M584 485.45v-2.6M584 281.1v2.6M629.3 485.45v-2.6M629.3 281.1v2.6M391.4 465.01h2.6M649.66 465.01h-2.6M391.4 444.58h2.6M649.66 444.58h-2.6M391.4 424.14h2.6M649.66 424.14h-2.6M391.4 403.71h2.6M649.66 403.71h-2.6M391.4 383.27h2.6M649.66 383.27h-2.6M391.4 362.84h2.6M649.66 362.84h-2.6M391.4 342.4h2.6M649.66 342.4h-2.6M391.4 321.97h2.6M649.66 321.97h-2.6M391.4 301.54h2.6M649.66 301.54h-2.6" stroke="#262626" stroke-width="0.5" fill="none"/>
<g clip-path="url(#cpd)" fill="#5aa5d5" stroke="#1f2d3a" stroke-width="0.6">
<rect x="402.8" y="293.87" width="23.56" height="191.58"/>
<rect x="426.36" y="477.79" width="23.56" height="7.66"/>
<rect x="449.91" y="475.23" width="23.56" height="10.22"/>
<rect x="473.47" y="471.15" width="23.56" height="14.3"/>
<rect x="497.02" y="454.8" width="23.56" height="30.65"/>
<rect x="520.58" y="453.26" width="23.56" height="32.19"/>
<rect x="544.14" y="457.86" width="23.56" height="27.59"/>
<rect x="567.69" y="459.4" width="23.56" height="26.05"/>
<rect x="591.25" y="444.07" width="23.56" height="41.38"/>
<rect x="614.8" y="475.23" width="23.56" height="10.22"/>
</g>
<path d="M402.8 485.45H638.36M402.8 485.45v-2.6M448.1 485.45v-2.6M493.4 485.45v-2.6M538.7 485.45v-2.6M584 485.45v-2.6M629.3 485.45v-2.6" stroke="#262626" stroke-opacity="0.45" stroke-width="0.5" fill="none"/>
<polyline clip-path="url(#cqd)" fill="none" stroke="#da5920" stroke-width="2.5" stroke-linejoin="round" stroke-linecap="round" points="403.65,221.1 403.69,485.45 404.61,485.45 405.52,485.45 406.42,485.45 407.33,485.45 408.24,485.45 409.14,485.45 410.05,485.45 410.95,485.45 411.86,485.45 412.77,485.45 413.67,485.45 414.58,485.45 415.48,485.45 416.39,485.45 417.3,485.45 418.2,485.45 419.11,485.45 420.01,485.45 420.92,485.45 421.83,485.45 422.73,485.45 423.64,485.45 424.54,485.45 425.45,485.45 426.36,485.45 427.26,485.45 428.17,485.45 429.07,485.45 429.98,485.45 430.89,485.45 431.79,485.45 432.7,485.45 433.6,485.45 434.51,485.45 435.42,485.45 436.32,485.45 437.23,485.45 438.13,485.45 439.04,485.45 439.95,485.45 440.85,485.45 441.76,485.45 442.66,485.45 443.57,485.45 444.48,485.45 445.38,485.45 446.29,485.45 447.19,485.45 448.1,485.45 449.01,485.45 449.91,485.45 450.82,485.45 451.72,485.44 452.63,485.44 453.54,485.44 454.44,485.44 455.35,485.43 456.25,485.43 457.16,485.42 458.07,485.42 458.97,485.41 459.88,485.4 460.78,485.39 461.69,485.37 462.6,485.35 463.5,485.33 464.41,485.3 465.31,485.27 466.22,485.22 467.13,485.18 468.03,485.12 468.94,485.05 469.84,484.97 470.75,484.87 471.66,484.76 472.56,484.62 473.47,484.47 474.37,484.29 475.28,484.08 476.19,483.84 477.09,483.57 478,483.25 478.9,482.9 479.81,482.49 480.72,482.04 481.62,481.52 482.53,480.95 483.43,480.31 484.34,479.6 485.25,478.81 486.15,477.95 487.06,477 487.96,475.96 488.87,474.84 489.78,473.62 490.68,472.31 491.59,470.91 492.49,469.41 493.4,467.82 494.31,466.14 495.21,464.37 496.12,462.52 497.02,460.6 497.93,458.61 498.84,456.56 499.74,454.47 500.65,452.34 501.55,450.18 502.46,448.02 503.37,445.86 504.27,443.73 505.18,441.63 506.08,439.59 506.99,437.63 507.9,435.75 508.8,433.98 509.71,432.33 510.61,430.82 511.52,429.46 512.43,428.28 513.33,427.27 514.24,426.45 515.14,425.82 516.05,425.4 516.96,425.19 517.86,425.19 518.77,425.4 519.67,425.82 520.58,426.45 521.49,427.27 522.39,428.28 523.3,429.46 524.2,430.82 525.11,432.33 526.02,433.98 526.92,435.75 527.83,437.62 528.73,439.59 529.64,441.63 530.55,443.73 531.45,445.86 532.36,448.01 533.26,450.17 534.17,452.32 535.08,454.45 535.98,456.54 536.89,458.58 537.79,460.56 538.7,462.47 539.61,464.29 540.51,466.04 541.42,467.69 542.32,469.24 543.23,470.69 544.14,472.03 545.04,473.26 545.95,474.38 546.85,475.38 547.76,476.27 548.67,477.04 549.57,477.69 550.48,478.21 551.38,478.61 552.29,478.88 553.2,479.01 554.1,479 555.01,478.85 555.91,478.54 556.82,478.08 557.73,477.46 558.63,476.67 559.54,475.71 560.44,474.56 561.35,473.23 562.26,471.71 563.16,470 564.07,468.11 564.97,466.02 565.88,463.75 566.79,461.31 567.69,458.71 568.6,455.97 569.5,453.09 570.41,450.12 571.32,447.06 572.22,443.96 573.13,440.85 574.03,437.76 574.94,434.72 575.85,431.79 576.75,428.99 577.66,426.37 578.56,423.96 579.47,421.8 580.38,419.93 581.28,418.37 582.19,417.14 583.09,416.28 584,415.78 584.91,415.67 585.81,415.94 586.72,416.58 587.62,417.6 588.53,418.96 589.44,420.65 590.34,422.65 591.25,424.92 592.15,427.42 593.06,430.13 593.97,432.99 594.87,435.98 595.78,439.06 596.68,442.18 597.59,445.32 598.5,448.43 599.4,451.48 600.31,454.46 601.21,457.32 602.12,460.07 603.03,462.67 603.93,465.11 604.84,467.4 605.74,469.51 606.65,471.45 607.56,473.23 608.46,474.84 609.37,476.28 610.27,477.57 611.18,478.72 612.09,479.73 612.99,480.62 613.9,481.39 614.8,482.06 615.71,482.63 616.62,483.12 617.52,483.53 618.43,483.88 619.33,484.18 620.24,484.42 621.15,484.62 622.05,484.79 622.96,484.92 623.86,485.03 624.77,485.12 625.68,485.19 626.58,485.25 627.49,485.3 628.39,485.33 629.3,485.36 630.21,485.38 631.11,485.4 632.02,485.41 632.92,485.42 633.83,485.43"/>
<polyline clip-path="url(#cqd)" fill="none" stroke="#ecb02b" stroke-width="2.5" stroke-linejoin="round" stroke-linecap="round" points="402.8,221.1 403.71,313.1 404.61,420.25 405.52,448.83 406.42,461.18 407.33,467.83 408.24,471.89 409.14,474.59 410.05,476.49 410.95,477.89 411.86,478.96 412.77,479.79 413.67,480.46 414.58,481 415.48,481.46 416.39,481.83 417.3,482.16 418.2,482.43 419.11,482.67 420.01,482.88 420.92,483.06 421.83,483.22 422.73,483.37 423.64,483.5 424.54,483.61 425.45,483.72 426.36,483.81 427.26,483.9 428.17,483.97 429.07,484.04 429.98,484.11 430.89,484.17 431.79,484.22 432.7,484.27 433.6,484.31 434.51,484.35 435.42,484.39 436.32,484.42 437.23,484.45 438.13,484.47 439.04,484.5 439.95,484.51 440.85,484.53 441.76,484.54 442.66,484.55 443.57,484.55 444.48,484.55 445.38,484.54 446.29,484.53 447.19,484.52 448.1,484.5 449.01,484.47 449.91,484.44 450.82,484.4 451.72,484.36 452.63,484.3 453.54,484.24 454.44,484.17 455.35,484.09 456.25,484 457.16,483.9 458.07,483.79 458.97,483.66 459.88,483.53 460.78,483.37 461.69,483.2 462.6,483.02 463.5,482.81 464.41,482.59 465.31,482.35 466.22,482.09 467.13,481.81 468.03,481.5 468.94,481.17 469.84,480.82 470.75,480.44 471.66,480.03 472.56,479.6 473.47,479.14 474.37,478.65 475.28,478.14 476.19,477.59 477.09,477.01 478,476.41 478.9,475.77 479.81,475.1 480.72,474.41 481.62,473.68 482.53,472.93 483.43,472.15 484.34,471.34 485.25,470.51 486.15,469.66 487.06,468.78 487.96,467.88 488.87,466.97 489.78,466.03 490.68,465.09 491.59,464.14 492.49,463.17 493.4,462.21 494.31,461.24 495.21,460.28 496.12,459.32 497.02,458.37 497.93,457.43 498.84,456.51 499.74,455.61 500.65,454.74 501.55,453.89 502.46,453.08 503.37,452.3 504.27,451.56 505.18,450.87 506.08,450.22 506.99,449.62 507.9,449.07 508.8,448.58 509.71,448.14 510.61,447.77 511.52,447.45 512.43,447.2 513.33,447.01 514.24,446.89 515.14,446.84 516.05,446.84 516.96,446.91 517.86,447.03 518.77,447.2 519.67,447.43 520.58,447.71 521.49,448.04 522.39,448.42 523.3,448.84 524.2,449.32 525.11,449.83 526.02,450.38 526.92,450.97 527.83,451.6 528.73,452.25 529.64,452.93 530.55,453.64 531.45,454.37 532.36,455.11 533.26,455.86 534.17,456.63 535.08,457.39 535.98,458.16 536.89,458.92 537.79,459.68 538.7,460.43 539.61,461.16 540.51,461.87 541.42,462.55 542.32,463.21 543.23,463.84 544.14,464.43 545.04,464.98 545.95,465.5 546.85,465.96 547.76,466.38 548.67,466.75 549.57,467.07 550.48,467.32 551.38,467.52 552.29,467.66 553.2,467.74 554.1,467.75 555.01,467.7 555.91,467.58 556.82,467.4 557.73,467.15 558.63,466.84 559.54,466.46 560.44,466.01 561.35,465.5 562.26,464.94 563.16,464.31 564.07,463.62 564.97,462.88 565.88,462.09 566.79,461.26 567.69,460.38 568.6,459.46 569.5,458.51 570.41,457.53 571.32,456.53 572.22,455.51 573.13,454.48 574.03,453.44 574.94,452.41 575.85,451.38 576.75,450.36 577.66,449.37 578.56,448.4 579.47,447.47 580.38,446.58 581.28,445.73 582.19,444.93 583.09,444.19 584,443.51 584.91,442.9 585.81,442.36 586.72,441.9 587.62,441.51 588.53,441.21 589.44,440.99 590.34,440.86 591.25,440.81 592.15,440.86 593.06,440.99 593.97,441.21 594.87,441.52 595.78,441.91 596.68,442.39 597.59,442.95 598.5,443.59 599.4,444.3 600.31,445.08 601.21,445.93 602.12,446.84 603.03,447.8 603.93,448.82 604.84,449.88 605.74,450.98 606.65,452.11 607.56,453.28 608.46,454.46 609.37,455.67 610.27,456.89 611.18,458.11 612.09,459.33 612.99,460.55 613.9,461.76 614.8,462.96 615.71,464.15 616.62,465.31 617.52,466.44 618.43,467.55 619.33,468.63 620.24,469.68 621.15,470.69 622.05,471.67 622.96,472.6 623.86,473.5 624.77,474.36 625.68,475.17 626.58,475.95 627.49,476.68 628.39,477.38 629.3,478.03 630.21,478.65 631.11,479.22 632.02,479.76 632.92,480.26 633.83,480.73"/>
<path d="M401.8 352.7h25.06" stroke="#fff" stroke-opacity="0.16" stroke-width="0.7"/>
<text class="tk" text-anchor="middle" transform="translate(402.8 496.65) scale(0.94 1)">0</text>
<text class="tk" text-anchor="middle" transform="translate(448.1 496.65) scale(0.94 1)">50</text>
<text class="tk" text-anchor="middle" transform="translate(493.4 496.65) scale(0.94 1)">100</text>
<text class="tk" text-anchor="middle" transform="translate(538.7 496.65) scale(0.94 1)">150</text>
<text class="tk" text-anchor="middle" transform="translate(584 496.65) scale(0.94 1)">200</text>
<text class="tk" text-anchor="middle" transform="translate(629.3 496.65) scale(0.94 1)">250</text>
<text class="tk" text-anchor="end" transform="translate(388.4 488.55) scale(0.94 1)">0</text>
<text class="tk" text-anchor="end" transform="translate(388.4 468.12) scale(0.94 1)">0.002</text>
<text class="tk" text-anchor="end" transform="translate(388.4 447.68) scale(0.94 1)">0.004</text>
<text class="tk" text-anchor="end" transform="translate(388.4 427.25) scale(0.94 1)">0.006</text>
<text class="tk" text-anchor="end" transform="translate(388.4 406.81) scale(0.94 1)">0.008</text>
<text class="tk" text-anchor="end" transform="translate(388.4 386.38) scale(0.94 1)">0.01</text>
<text class="tk" text-anchor="end" transform="translate(388.4 365.94) scale(0.94 1)">0.012</text>
<text class="tk" text-anchor="end" transform="translate(388.4 345.5) scale(0.94 1)">0.014</text>
<text class="tk" text-anchor="end" transform="translate(388.4 325.07) scale(0.94 1)">0.016</text>
<text class="tk" text-anchor="end" transform="translate(388.4 304.64) scale(0.94 1)">0.018</text>
<text class="tk" text-anchor="end" transform="translate(388.4 284.2) scale(0.94 1)">0.02</text>
<text class="lb" text-anchor="middle" x="520.53" y="508.35">grey levels</text>
<text class="lb yl" text-anchor="middle" transform="translate(363.8 383.17) rotate(-90)">hitogram</text>
<rect x="572.86" y="287.5" width="70.8" height="31.4" fill="#fff" stroke="#262626" stroke-width="0.5"/>
<rect x="575.36" y="289.7" width="24" height="7.2" fill="#5aa5d5" stroke="#1f2d3a" stroke-width="0.6"/>
<path d="M575.36 302.8h23.8" stroke="#da5920" stroke-width="2.5"/>
<path d="M575.36 312.7h23.8" stroke="#ecb02b" stroke-width="2.5"/>
<g class="lg"><text x="601.26" y="295.8">Histogram</text><text x="601.26" y="305.3">GMM</text><text x="601.26" y="315.3"><tspan class="al">α</tspan>-StableMM</text></g>
<text class="cap" text-anchor="middle" x="507.7" y="528.5">(d) test 12</text>
</g>
<g id="plot-e">
<clipPath id="cpe"><rect x="46.68" y="544.35" width="258.82" height="204.35"/></clipPath>
<clipPath id="cqe"><rect x="45.68" y="543.75" width="260.82" height="206.15"/></clipPath>
<path d="M46.68 544.35H305.5V748.7H46.68ZM58.4 748.7v-2.6M58.4 544.35v2.6M103.8 748.7v-2.6M103.8 544.35v2.6M149.2 748.7v-2.6M149.2 544.35v2.6M194.6 748.7v-2.6M194.6 544.35v2.6M240 748.7v-2.6M240 544.35v2.6M285.4 748.7v-2.6M285.4 544.35v2.6M46.68 728.27h2.6M305.5 728.27h-2.6M46.68 707.83h2.6M305.5 707.83h-2.6M46.68 687.39h2.6M305.5 687.39h-2.6M46.68 666.96h2.6M305.5 666.96h-2.6M46.68 646.53h2.6M305.5 646.53h-2.6M46.68 626.09h2.6M305.5 626.09h-2.6M46.68 605.65h2.6M305.5 605.65h-2.6M46.68 585.22h2.6M305.5 585.22h-2.6M46.68 564.79h2.6M305.5 564.79h-2.6" stroke="#262626" stroke-width="0.5" fill="none"/>
<g clip-path="url(#cpe)" fill="#5aa5d5" stroke="#1f2d3a" stroke-width="0.6">
<rect x="58.4" y="442.18" width="23.61" height="306.53"/>
<rect x="82.01" y="722.13" width="23.61" height="26.57"/>
<rect x="105.62" y="732.35" width="23.61" height="16.35"/>
<rect x="129.22" y="733.37" width="23.61" height="15.33"/>
<rect x="152.83" y="730.31" width="23.61" height="18.39"/>
<rect x="176.44" y="728.26" width="23.61" height="20.44"/>
<rect x="200.05" y="730.31" width="23.61" height="18.39"/>
<rect x="223.66" y="728.26" width="23.61" height="20.44"/>
<rect x="247.26" y="701.7" width="23.61" height="47"/>
<rect x="270.87" y="745.63" width="23.61" height="3.07"/>
</g>
<path d="M58.4 748.7H294.48M58.4 748.7v-2.6M103.8 748.7v-2.6M149.2 748.7v-2.6M194.6 748.7v-2.6M240 748.7v-2.6M285.4 748.7v-2.6" stroke="#262626" stroke-opacity="0.45" stroke-width="0.5" fill="none"/>
<polyline clip-path="url(#cqe)" fill="none" stroke="#da5920" stroke-width="2.5" stroke-linejoin="round" stroke-linecap="round" points="59.23,484.35 59.26,748.7 60.22,748.7 61.12,748.7 62.03,748.7 62.94,748.7 63.85,748.7 64.76,748.7 65.66,748.7 66.57,748.7 67.48,748.7 68.39,748.7 69.3,748.7 70.2,748.7 71.11,748.7 72.02,748.7 72.93,748.7 73.84,748.7 74.74,748.7 75.65,748.7 76.56,748.7 77.47,748.7 78.38,748.7 79.28,748.7 80.19,748.7 81.1,748.7 82.01,748.69 82.92,748.69 83.82,748.69 84.73,748.69 85.64,748.69 86.55,748.68 87.46,748.68 88.36,748.68 89.27,748.67 90.18,748.67 91.09,748.66 92,748.65 92.9,748.64 93.81,748.63 94.72,748.62 95.63,748.6 96.54,748.58 97.44,748.56 98.35,748.53 99.26,748.51 100.17,748.47 101.08,748.43 101.98,748.39 102.89,748.34 103.8,748.28 104.71,748.22 105.62,748.14 106.52,748.06 107.43,747.96 108.34,747.85 109.25,747.73 110.16,747.59 111.06,747.44 111.97,747.27 112.88,747.08 113.79,746.87 114.7,746.64 115.6,746.38 116.51,746.1 117.42,745.79 118.33,745.45 119.24,745.08 120.14,744.68 121.05,744.25 121.96,743.78 122.87,743.27 123.78,742.73 124.68,742.15 125.59,741.53 126.5,740.87 127.41,740.17 128.32,739.43 129.22,738.65 130.13,737.83 131.04,736.97 131.95,736.07 132.86,735.14 133.76,734.18 134.67,733.18 135.58,732.16 136.49,731.11 137.4,730.05 138.3,728.96 139.21,727.86 140.12,726.76 141.03,725.65 141.94,724.54 142.84,723.45 143.75,722.37 144.66,721.3 145.57,720.27 146.48,719.26 147.38,718.3 148.29,717.38 149.2,716.5 150.11,715.69 151.02,714.94 151.92,714.25 152.83,713.63 153.74,713.09 154.65,712.63 155.56,712.25 156.46,711.96 157.37,711.76 158.28,711.64 159.19,711.61 160.1,711.68 161,711.83 161.91,712.07 162.82,712.4 163.73,712.81 164.64,713.3 165.54,713.87 166.45,714.52 167.36,715.23 168.27,716.01 169.18,716.84 170.08,717.74 170.99,718.67 171.9,719.66 172.81,720.67 173.72,721.72 174.62,722.79 175.53,723.87 176.44,724.97 177.35,726.07 178.26,727.18 179.16,728.27 180.07,729.36 180.98,730.43 181.89,731.48 182.8,732.5 183.7,733.5 184.61,734.46 185.52,735.39 186.43,736.28 187.34,737.12 188.24,737.93 189.15,738.68 190.06,739.39 190.97,740.05 191.88,740.66 192.78,741.21 193.69,741.71 194.6,742.15 195.51,742.54 196.42,742.87 197.32,743.14 198.23,743.34 199.14,743.49 200.05,743.57 200.96,743.58 201.86,743.53 202.77,743.4 203.68,743.21 204.59,742.94 205.5,742.6 206.4,742.18 207.31,741.68 208.22,741.1 209.13,740.43 210.04,739.69 210.94,738.86 211.85,737.94 212.76,736.94 213.67,735.86 214.58,734.69 215.48,733.44 216.39,732.11 217.3,730.71 218.21,729.24 219.12,727.7 220.02,726.1 220.93,724.45 221.84,722.76 222.75,721.04 223.66,719.29 224.56,717.52 225.47,715.76 226.38,714 227.29,712.27 228.2,710.58 229.1,708.93 230.01,707.35 230.92,705.84 231.83,704.42 232.74,703.1 233.64,701.9 234.55,700.82 235.46,699.87 236.37,699.07 237.28,698.42 238.18,697.93 239.09,697.59 240,697.43 240.91,697.43 241.82,697.59 242.72,697.93 243.63,698.42 244.54,699.08 245.45,699.88 246.36,700.83 247.26,701.91 248.17,703.11 249.08,704.44 249.99,705.86 250.9,707.37 251.8,708.96 252.71,710.61 253.62,712.31 254.53,714.05 255.44,715.81 256.34,717.59 257.25,719.37 258.16,721.13 259.07,722.87 259.98,724.58 260.88,726.26 261.79,727.88 262.7,729.45 263.61,730.96 264.52,732.4 265.42,733.78 266.33,735.08 267.24,736.31 268.15,737.47 269.06,738.55 269.96,739.56 270.87,740.49 271.78,741.35 272.69,742.15 273.6,742.87 274.5,743.54 275.41,744.14 276.32,744.68 277.23,745.18 278.14,745.62 279.04,746.01 279.95,746.36 280.86,746.68 281.77,746.95 282.68,747.2 283.58,747.41 284.49,747.6 285.4,747.76 286.31,747.9 287.22,748.02 288.12,748.13 289.03,748.22 289.94,748.3"/>
<polyline clip-path="url(#cqe)" fill="none" stroke="#ecb02b" stroke-width="2.5" stroke-linejoin="round" stroke-linecap="round" points="58.4,484.35 59.31,509.89 60.22,634.83 61.12,679.45 62.03,701.09 62.94,713.46 63.85,721.29 64.76,726.61 65.66,730.41 66.57,733.23 67.48,735.4 68.39,737.1 69.3,738.47 70.2,739.58 71.11,740.51 72.02,741.28 72.93,741.94 73.84,742.49 74.74,742.98 75.65,743.39 76.56,743.75 77.47,744.07 78.38,744.35 79.28,744.59 80.19,744.81 81.1,745 82.01,745.16 82.92,745.31 83.82,745.44 84.73,745.55 85.64,745.64 86.55,745.72 87.46,745.79 88.36,745.84 89.27,745.88 90.18,745.91 91.09,745.93 92,745.93 92.9,745.93 93.81,745.91 94.72,745.88 95.63,745.85 96.54,745.8 97.44,745.74 98.35,745.67 99.26,745.59 100.17,745.49 101.08,745.39 101.98,745.27 102.89,745.14 103.8,745 104.71,744.85 105.62,744.68 106.52,744.5 107.43,744.31 108.34,744.1 109.25,743.88 110.16,743.65 111.06,743.41 111.97,743.15 112.88,742.87 113.79,742.58 114.7,742.28 115.6,741.97 116.51,741.64 117.42,741.3 118.33,740.94 119.24,740.57 120.14,740.19 121.05,739.79 121.96,739.38 122.87,738.97 123.78,738.53 124.68,738.09 125.59,737.64 126.5,737.18 127.41,736.71 128.32,736.24 129.22,735.75 130.13,735.26 131.04,734.77 131.95,734.27 132.86,733.77 133.76,733.27 134.67,732.77 135.58,732.26 136.49,731.76 137.4,731.27 138.3,730.78 139.21,730.29 140.12,729.82 141.03,729.35 141.94,728.89 142.84,728.44 143.75,728.01 144.66,727.59 145.57,727.19 146.48,726.81 147.38,726.44 148.29,726.1 149.2,725.77 150.11,725.47 151.02,725.19 151.92,724.93 152.83,724.7 153.74,724.49 154.65,724.31 155.56,724.16 156.46,724.04 157.37,723.94 158.28,723.87 159.19,723.83 160.1,723.82 161,723.84 161.91,723.89 162.82,723.96 163.73,724.07 164.64,724.2 165.54,724.36 166.45,724.55 167.36,724.76 168.27,725 169.18,725.27 170.08,725.55 170.99,725.86 171.9,726.19 172.81,726.54 173.72,726.91 174.62,727.3 175.53,727.7 176.44,728.12 177.35,728.55 178.26,728.99 179.16,729.44 180.07,729.9 180.98,730.37 181.89,730.83 182.8,731.3 183.7,731.78 184.61,732.24 185.52,732.71 186.43,733.17 187.34,733.62 188.24,734.06 189.15,734.49 190.06,734.91 190.97,735.31 191.88,735.69 192.78,736.06 193.69,736.39 194.6,736.71 195.51,736.99 196.42,737.25 197.32,737.48 198.23,737.67 199.14,737.83 200.05,737.94 200.96,738.02 201.86,738.06 202.77,738.05 203.68,737.99 204.59,737.89 205.5,737.74 206.4,737.54 207.31,737.28 208.22,736.98 209.13,736.62 210.04,736.2 210.94,735.73 211.85,735.2 212.76,734.62 213.67,733.99 214.58,733.3 215.48,732.55 216.39,731.76 217.3,730.92 218.21,730.03 219.12,729.1 220.02,728.13 220.93,727.12 221.84,726.08 222.75,725.02 223.66,723.92 224.56,722.81 225.47,721.69 226.38,720.56 227.29,719.43 228.2,718.31 229.1,717.19 230.01,716.1 230.92,715.03 231.83,713.99 232.74,712.99 233.64,712.03 234.55,711.13 235.46,710.28 236.37,709.5 237.28,708.78 238.18,708.14 239.09,707.57 240,707.09 240.91,706.69 241.82,706.39 242.72,706.17 243.63,706.04 244.54,706.01 245.45,706.08 246.36,706.24 247.26,706.49 248.17,706.83 249.08,707.27 249.99,707.79 250.9,708.39 251.8,709.08 252.71,709.84 253.62,710.67 254.53,711.56 255.44,712.52 256.34,713.53 257.25,714.59 258.16,715.69 259.07,716.83 259.98,718 260.88,719.19 261.79,720.4 262.7,721.62 263.61,722.85 264.52,724.08 265.42,725.3 266.33,726.51 267.24,727.7 268.15,728.87 269.06,730.03 269.96,731.15 270.87,732.24 271.78,733.3 272.69,734.32 273.6,735.31 274.5,736.25 275.41,737.15 276.32,738.02 277.23,738.83 278.14,739.61 279.04,740.34 279.95,741.03 280.86,741.68 281.77,742.29 282.68,742.86 283.58,743.38 284.49,743.87 285.4,744.33 286.31,744.75 287.22,745.13 288.12,745.49 289.03,745.81 289.94,746.11"/>
<path d="M57.4 615.95h25.11" stroke="#fff" stroke-opacity="0.16" stroke-width="0.7"/>
<text class="tk" text-anchor="middle" transform="translate(58.4 759.9) scale(0.94 1)">0</text>
<text class="tk" text-anchor="middle" transform="translate(103.8 759.9) scale(0.94 1)">50</text>
<text class="tk" text-anchor="middle" transform="translate(149.2 759.9) scale(0.94 1)">100</text>
<text class="tk" text-anchor="middle" transform="translate(194.6 759.9) scale(0.94 1)">150</text>
<text class="tk" text-anchor="middle" transform="translate(240 759.9) scale(0.94 1)">200</text>
<text class="tk" text-anchor="middle" transform="translate(285.4 759.9) scale(0.94 1)">250</text>
<text class="tk" text-anchor="end" transform="translate(43.68 751.8) scale(0.94 1)">0</text>
<text class="tk" text-anchor="end" transform="translate(43.68 731.37) scale(0.94 1)">0.002</text>
<text class="tk" text-anchor="end" transform="translate(43.68 710.93) scale(0.94 1)">0.004</text>
<text class="tk" text-anchor="end" transform="translate(43.68 690.5) scale(0.94 1)">0.006</text>
<text class="tk" text-anchor="end" transform="translate(43.68 670.06) scale(0.94 1)">0.008</text>
<text class="tk" text-anchor="end" transform="translate(43.68 649.63) scale(0.94 1)">0.01</text>
<text class="tk" text-anchor="end" transform="translate(43.68 629.19) scale(0.94 1)">0.012</text>
<text class="tk" text-anchor="end" transform="translate(43.68 608.75) scale(0.94 1)">0.014</text>
<text class="tk" text-anchor="end" transform="translate(43.68 588.32) scale(0.94 1)">0.016</text>
<text class="tk" text-anchor="end" transform="translate(43.68 567.89) scale(0.94 1)">0.018</text>
<text class="tk" text-anchor="end" transform="translate(43.68 547.45) scale(0.94 1)">0.02</text>
<text class="lb" text-anchor="middle" x="176.09" y="771.6">grey levels</text>
<text class="lb yl" text-anchor="middle" transform="translate(19.08 646.43) rotate(-90)">hitogram</text>
<rect x="228.7" y="550.75" width="70.8" height="31.4" fill="#fff" stroke="#262626" stroke-width="0.5"/>
<rect x="231.2" y="552.95" width="24" height="7.2" fill="#5aa5d5" stroke="#1f2d3a" stroke-width="0.6"/>
<path d="M231.2 566.05h23.8" stroke="#da5920" stroke-width="2.5"/>
<path d="M231.2 575.95h23.8" stroke="#ecb02b" stroke-width="2.5"/>
<g class="lg"><text x="257.1" y="559.05">Histogram</text><text x="257.1" y="568.55">GMM</text><text x="257.1" y="578.55"><tspan class="al">α</tspan>-StableMM</text></g>
<text class="cap" text-anchor="middle" x="163.5" y="791.9">(e) test 13</text>
</g>
<g id="plot-f">
<clipPath id="cpf"><rect x="393.76" y="544.35" width="259.14" height="204.35"/></clipPath>
<clipPath id="cqf"><rect x="392.76" y="543.75" width="261.14" height="206.15"/></clipPath>
<path d="M393.76 544.35H652.9V748.7H393.76ZM405.45 748.7v-2.6M405.45 544.35v2.6M450.84 748.7v-2.6M450.84 544.35v2.6M496.23 748.7v-2.6M496.23 544.35v2.6M541.62 748.7v-2.6M541.62 544.35v2.6M587.01 748.7v-2.6M587.01 544.35v2.6M632.4 748.7v-2.6M632.4 544.35v2.6M393.76 728.27h2.6M652.9 728.27h-2.6M393.76 707.83h2.6M652.9 707.83h-2.6M393.76 687.39h2.6M652.9 687.39h-2.6M393.76 666.96h2.6M652.9 666.96h-2.6M393.76 646.53h2.6M652.9 646.53h-2.6M393.76 626.09h2.6M652.9 626.09h-2.6M393.76 605.65h2.6M652.9 605.65h-2.6M393.76 585.22h2.6M652.9 585.22h-2.6M393.76 564.79h2.6M652.9 564.79h-2.6" stroke="#262626" stroke-width="0.5" fill="none"/>
<g clip-path="url(#cpf)" fill="#5aa5d5" stroke="#1f2d3a" stroke-width="0.6">
<rect x="405.45" y="556.1" width="23.6" height="192.6"/>
<rect x="429.05" y="727.75" width="23.6" height="20.95"/>
<rect x="452.66" y="731.84" width="23.6" height="16.86"/>
<rect x="476.26" y="730.82" width="23.6" height="17.88"/>
<rect x="499.86" y="723.16" width="23.6" height="25.54"/>
<rect x="523.46" y="717.54" width="23.6" height="31.16"/>
<rect x="547.07" y="721.11" width="23.6" height="27.59"/>
<rect x="570.67" y="720.09" width="23.6" height="28.61"/>
<rect x="594.27" y="721.11" width="23.6" height="27.59"/>
<rect x="617.88" y="745.63" width="23.6" height="3.07"/>
</g>
<path d="M405.45 748.7H641.48M405.45 748.7v-2.6M450.84 748.7v-2.6M496.23 748.7v-2.6M541.62 748.7v-2.6M587.01 748.7v-2.6M632.4 748.7v-2.6" stroke="#262626" stroke-opacity="0.45" stroke-width="0.5" fill="none"/>
<polyline clip-path="url(#cqf)" fill="none" stroke="#da5920" stroke-width="2.5" stroke-linejoin="round" stroke-linecap="round" points="405.45,484.35 406.36,484.35 407.27,484.35 408.17,484.35 409.08,484.35 409.99,484.35 410.9,507.62 411.8,690.72 412.71,737.84 413.62,747.12 414.53,748.52 415.44,748.68 416.34,748.7 417.25,748.7 418.16,748.7 419.07,748.7 419.97,748.7 420.88,748.7 421.79,748.7 422.7,748.7 423.61,748.7 424.51,748.7 425.42,748.7 426.33,748.7 427.24,748.7 428.14,748.7 429.05,748.7 429.96,748.7 430.87,748.7 431.78,748.7 432.68,748.7 433.59,748.7 434.5,748.7 435.41,748.7 436.32,748.7 437.22,748.7 438.13,748.7 439.04,748.7 439.95,748.7 440.85,748.7 441.76,748.7 442.67,748.69 443.58,748.69 444.49,748.69 445.39,748.69 446.3,748.69 447.21,748.68 448.12,748.68 449.02,748.67 449.93,748.67 450.84,748.66 451.75,748.65 452.66,748.64 453.56,748.62 454.47,748.6 455.38,748.58 456.29,748.55 457.19,748.52 458.1,748.49 459.01,748.44 459.92,748.39 460.83,748.32 461.73,748.25 462.64,748.16 463.55,748.06 464.46,747.94 465.36,747.8 466.27,747.65 467.18,747.46 468.09,747.25 469,747.01 469.9,746.74 470.81,746.43 471.72,746.08 472.63,745.69 473.53,745.24 474.44,744.75 475.35,744.2 476.26,743.6 477.17,742.93 478.07,742.19 478.98,741.38 479.89,740.51 480.8,739.55 481.71,738.53 482.61,737.42 483.52,736.23 484.43,734.97 485.34,733.63 486.24,732.21 487.15,730.72 488.06,729.16 488.97,727.54 489.88,725.86 490.78,724.12 491.69,722.34 492.6,720.53 493.51,718.69 494.41,716.85 495.32,715 496.23,713.16 497.14,711.34 498.05,709.57 498.95,707.84 499.86,706.18 500.77,704.61 501.68,703.13 502.58,701.75 503.49,700.49 504.4,699.37 505.31,698.39 506.22,697.56 507.12,696.89 508.03,696.38 508.94,696.05 509.85,695.89 510.75,695.91 511.66,696.1 512.57,696.47 513.48,697.01 514.39,697.71 515.29,698.57 516.2,699.58 517.11,700.73 518.02,702.01 518.92,703.41 519.83,704.91 520.74,706.51 521.65,708.17 522.56,709.91 523.46,711.69 524.37,713.5 525.28,715.34 526.19,717.18 527.1,719.02 528,720.84 528.91,722.63 529.82,724.37 530.73,726.07 531.63,727.7 532.54,729.26 533.45,730.75 534.36,732.15 535.27,733.46 536.17,734.67 537.08,735.77 537.99,736.76 538.9,737.64 539.8,738.39 540.71,739.02 541.62,739.51 542.53,739.87 543.44,740.07 544.34,740.13 545.25,740.02 546.16,739.75 547.07,739.3 547.97,738.67 548.88,737.85 549.79,736.84 550.7,735.63 551.61,734.22 552.51,732.61 553.42,730.79 554.33,728.78 555.24,726.56 556.14,724.17 557.05,721.59 557.96,718.86 558.87,715.99 559.78,713 560.68,709.93 561.59,706.79 562.5,703.64 563.41,700.49 564.32,697.39 565.22,694.38 566.13,691.5 567.04,688.79 567.95,686.29 568.85,684.04 569.76,682.07 570.67,680.41 571.58,679.1 572.49,678.14 573.39,677.56 574.3,677.37 575.21,677.57 576.12,678.15 577.02,679.12 577.93,680.44 578.84,682.11 579.75,684.09 580.66,686.35 581.56,688.86 582.47,691.59 583.38,694.49 584.29,697.53 585.19,700.66 586.1,703.84 587.01,707.04 587.92,710.23 588.83,713.37 589.73,716.43 590.64,719.38 591.55,722.21 592.46,724.9 593.36,727.43 594.27,729.8 595.18,731.99 596.09,734.01 597,735.86 597.9,737.54 598.81,739.05 599.72,740.4 600.63,741.6 601.53,742.66 602.44,743.59 603.35,744.4 604.26,745.11 605.17,745.71 606.07,746.22 606.98,746.66 607.89,747.03 608.8,747.34 609.71,747.6 610.61,747.82 611.52,747.99 612.43,748.14 613.34,748.25 614.24,748.35 615.15,748.42 616.06,748.49 616.97,748.53 617.88,748.57 618.78,748.6 619.69,748.63 620.6,748.64 621.51,748.66 622.41,748.67 623.32,748.68 624.23,748.68 625.14,748.69 626.05,748.69 626.95,748.69 627.86,748.69 628.77,748.7 629.68,748.7 630.58,748.7 631.49,748.7 632.4,748.7 633.31,748.7 634.22,748.7 635.12,748.7 636.03,748.7 636.94,748.7"/>
<polyline clip-path="url(#cqf)" fill="none" stroke="#ecb02b" stroke-width="2.5" stroke-linejoin="round" stroke-linecap="round" points="405.45,484.35 406.36,547.37 407.27,652.82 408.17,690.31 409.08,708.48 409.99,718.88 410.9,725.46 411.8,729.94 412.71,733.15 413.62,735.53 414.53,737.37 415.44,738.81 416.34,739.97 417.25,740.91 418.16,741.7 419.07,742.36 419.97,742.92 420.88,743.39 421.79,743.81 422.7,744.16 423.61,744.47 424.51,744.75 425.42,744.99 426.33,745.2 427.24,745.38 428.14,745.55 429.05,745.69 429.96,745.82 430.87,745.93 431.78,746.03 432.68,746.11 433.59,746.18 434.5,746.24 435.41,746.28 436.32,746.32 437.22,746.34 438.13,746.35 439.04,746.35 439.95,746.35 440.85,746.33 441.76,746.3 442.67,746.26 443.58,746.2 444.49,746.14 445.39,746.07 446.3,745.98 447.21,745.88 448.12,745.77 449.02,745.64 449.93,745.5 450.84,745.35 451.75,745.18 452.66,745 453.56,744.8 454.47,744.58 455.38,744.35 456.29,744.1 457.19,743.84 458.1,743.55 459.01,743.25 459.92,742.93 460.83,742.6 461.73,742.24 462.64,741.86 463.55,741.47 464.46,741.05 465.36,740.62 466.27,740.17 467.18,739.7 468.09,739.2 469,738.7 469.9,738.17 470.81,737.62 471.72,737.06 472.63,736.48 473.53,735.89 474.44,735.28 475.35,734.66 476.26,734.03 477.17,733.39 478.07,732.73 478.98,732.07 479.89,731.4 480.8,730.73 481.71,730.05 482.61,729.37 483.52,728.69 484.43,728.01 485.34,727.34 486.24,726.67 487.15,726.01 488.06,725.36 488.97,724.72 489.88,724.09 490.78,723.49 491.69,722.9 492.6,722.33 493.51,721.78 494.41,721.26 495.32,720.76 496.23,720.29 497.14,719.85 498.05,719.44 498.95,719.07 499.86,718.72 500.77,718.42 501.68,718.15 502.58,717.91 503.49,717.72 504.4,717.56 505.31,717.44 506.22,717.36 507.12,717.32 508.03,717.31 508.94,717.35 509.85,717.42 510.75,717.53 511.66,717.68 512.57,717.86 513.48,718.07 514.39,718.31 515.29,718.59 516.2,718.89 517.11,719.22 518.02,719.58 518.92,719.95 519.83,720.35 520.74,720.76 521.65,721.18 522.56,721.62 523.46,722.06 524.37,722.52 525.28,722.97 526.19,723.42 527.1,723.87 528,724.32 528.91,724.75 529.82,725.18 530.73,725.59 531.63,725.98 532.54,726.35 533.45,726.7 534.36,727.02 535.27,727.31 536.17,727.58 537.08,727.81 537.99,728.01 538.9,728.17 539.8,728.29 540.71,728.38 541.62,728.42 542.53,728.43 543.44,728.39 544.34,728.31 545.25,728.19 546.16,728.02 547.07,727.81 547.97,727.56 548.88,727.27 549.79,726.93 550.7,726.56 551.61,726.15 552.51,725.7 553.42,725.22 554.33,724.71 555.24,724.16 556.14,723.59 557.05,722.99 557.96,722.37 558.87,721.73 559.78,721.08 560.68,720.41 561.59,719.74 562.5,719.06 563.41,718.38 564.32,717.7 565.22,717.02 566.13,716.36 567.04,715.7 567.95,715.07 568.85,714.45 569.76,713.86 570.67,713.3 571.58,712.77 572.49,712.27 573.39,711.81 574.3,711.39 575.21,711.01 576.12,710.67 577.02,710.39 577.93,710.15 578.84,709.96 579.75,709.83 580.66,709.75 581.56,709.73 582.47,709.76 583.38,709.86 584.29,710.04 585.19,710.3 586.1,710.63 587.01,711.03 587.92,711.5 588.83,712.04 589.73,712.65 590.64,713.31 591.55,714.04 592.46,714.82 593.36,715.64 594.27,716.52 595.18,717.43 596.09,718.38 597,719.36 597.9,720.37 598.81,721.4 599.72,722.44 600.63,723.5 601.53,724.56 602.44,725.63 603.35,726.69 604.26,727.75 605.17,728.79 606.07,729.83 606.98,730.84 607.89,731.84 608.8,732.81 609.71,733.76 610.61,734.68 611.52,735.57 612.43,736.42 613.34,737.25 614.24,738.04 615.15,738.79 616.06,739.51 616.97,740.2 617.88,740.85 618.78,741.46 619.69,742.04 620.6,742.58 621.51,743.1 622.41,743.57 623.32,744.02 624.23,744.43 625.14,744.82 626.05,745.18 626.95,745.51 627.86,745.81 628.77,746.09 629.68,746.35 630.58,746.58 631.49,746.79 632.4,746.99 633.31,747.17 634.22,747.33 635.12,747.47 636.03,747.6 636.94,747.72"/>
<path d="M404.45 615.95h25.1" stroke="#fff" stroke-opacity="0.16" stroke-width="0.7"/>
<text class="tk" text-anchor="middle" transform="translate(405.45 759.9) scale(0.94 1)">0</text>
<text class="tk" text-anchor="middle" transform="translate(450.84 759.9) scale(0.94 1)">50</text>
<text class="tk" text-anchor="middle" transform="translate(496.23 759.9) scale(0.94 1)">100</text>
<text class="tk" text-anchor="middle" transform="translate(541.62 759.9) scale(0.94 1)">150</text>
<text class="tk" text-anchor="middle" transform="translate(587.01 759.9) scale(0.94 1)">200</text>
<text class="tk" text-anchor="middle" transform="translate(632.4 759.9) scale(0.94 1)">250</text>
<text class="tk" text-anchor="end" transform="translate(390.76 751.8) scale(0.94 1)">0</text>
<text class="tk" text-anchor="end" transform="translate(390.76 731.37) scale(0.94 1)">0.002</text>
<text class="tk" text-anchor="end" transform="translate(390.76 710.93) scale(0.94 1)">0.004</text>
<text class="tk" text-anchor="end" transform="translate(390.76 690.5) scale(0.94 1)">0.006</text>
<text class="tk" text-anchor="end" transform="translate(390.76 670.06) scale(0.94 1)">0.008</text>
<text class="tk" text-anchor="end" transform="translate(390.76 649.63) scale(0.94 1)">0.01</text>
<text class="tk" text-anchor="end" transform="translate(390.76 629.19) scale(0.94 1)">0.012</text>
<text class="tk" text-anchor="end" transform="translate(390.76 608.75) scale(0.94 1)">0.014</text>
<text class="tk" text-anchor="end" transform="translate(390.76 588.32) scale(0.94 1)">0.016</text>
<text class="tk" text-anchor="end" transform="translate(390.76 567.89) scale(0.94 1)">0.018</text>
<text class="tk" text-anchor="end" transform="translate(390.76 547.45) scale(0.94 1)">0.02</text>
<text class="lb" text-anchor="middle" x="523.33" y="771.6">grey levels</text>
<text class="lb yl" text-anchor="middle" transform="translate(366.16 646.43) rotate(-90)">hitogram</text>
<rect x="576.1" y="550.75" width="70.8" height="31.4" fill="#fff" stroke="#262626" stroke-width="0.5"/>
<rect x="578.6" y="552.95" width="24" height="7.2" fill="#5aa5d5" stroke="#1f2d3a" stroke-width="0.6"/>
<path d="M578.6 566.05h23.8" stroke="#da5920" stroke-width="2.5"/>
<path d="M578.6 575.95h23.8" stroke="#ecb02b" stroke-width="2.5"/>
<g class="lg"><text x="604.5" y="559.05">Histogram</text><text x="604.5" y="568.55">GMM</text><text x="604.5" y="578.55"><tspan class="al">α</tspan>-StableMM</text></g>
<text class="cap" text-anchor="middle" x="510.8" y="791.9">(f) test 14</text>
</g>
<g id="plot-g">
<clipPath id="cpg"><rect x="49.64" y="808.3" width="258.96" height="204.15"/></clipPath>
<clipPath id="cqg"><rect x="48.64" y="807.7" width="260.96" height="205.95"/></clipPath>
<path d="M49.64 808.3H308.6V1012.45H49.64ZM61.45 1012.45v-2.6M61.45 808.3v2.6M106.85 1012.45v-2.6M106.85 808.3v2.6M152.25 1012.45v-2.6M152.25 808.3v2.6M197.65 1012.45v-2.6M197.65 808.3v2.6M243.05 1012.45v-2.6M243.05 808.3v2.6M288.45 1012.45v-2.6M288.45 808.3v2.6M49.64 992.04h2.6M308.6 992.04h-2.6M49.64 971.62h2.6M308.6 971.62h-2.6M49.64 951.21h2.6M308.6 951.21h-2.6M49.64 930.79h2.6M308.6 930.79h-2.6M49.64 910.38h2.6M308.6 910.38h-2.6M49.64 889.96h2.6M308.6 889.96h-2.6M49.64 869.54h2.6M308.6 869.54h-2.6M49.64 849.13h2.6M308.6 849.13h-2.6M49.64 828.71h2.6M308.6 828.71h-2.6" stroke="#262626" stroke-width="0.5" fill="none"/>
<g clip-path="url(#cpg)" fill="#5aa5d5" stroke="#1f2d3a" stroke-width="0.6">
<rect x="61.45" y="819.53" width="23.61" height="192.92"/>
<rect x="85.06" y="993.06" width="23.61" height="19.39"/>
<rect x="108.67" y="991.52" width="23.61" height="20.93"/>
<rect x="132.27" y="992.04" width="23.61" height="20.41"/>
<rect x="155.88" y="987.44" width="23.61" height="25.01"/>
<rect x="179.49" y="981.83" width="23.61" height="30.62"/>
<rect x="203.1" y="985.91" width="23.61" height="26.54"/>
<rect x="226.71" y="983.36" width="23.61" height="29.09"/>
<rect x="250.31" y="987.44" width="23.61" height="25.01"/>
<rect x="273.92" y="1010.41" width="23.61" height="2.04"/>
</g>
<path d="M61.45 1012.45H297.53M61.45 1012.45v-2.6M106.85 1012.45v-2.6M152.25 1012.45v-2.6M197.65 1012.45v-2.6M243.05 1012.45v-2.6M288.45 1012.45v-2.6" stroke="#262626" stroke-opacity="0.45" stroke-width="0.5" fill="none"/>
<polyline clip-path="url(#cqg)" fill="none" stroke="#da5920" stroke-width="2.5" stroke-linejoin="round" stroke-linecap="round" points="62.36,748.3 62.39,1012.45 64.17,1012.45 65.08,1012.45 65.99,1012.45 66.9,1012.45 67.81,1012.45 68.71,1012.45 69.62,1012.45 70.53,1012.45 71.44,1012.45 72.35,1012.45 73.25,1012.45 74.16,1012.45 75.07,1012.45 75.98,1012.45 76.89,1012.45 77.79,1012.45 78.7,1012.45 79.61,1012.45 80.52,1012.45 81.43,1012.45 82.33,1012.45 83.24,1012.45 84.15,1012.45 85.06,1012.45 85.97,1012.45 86.87,1012.45 87.78,1012.45 88.69,1012.45 89.6,1012.44 90.51,1012.44 91.41,1012.44 92.32,1012.44 93.23,1012.43 94.14,1012.43 95.05,1012.42 95.95,1012.42 96.86,1012.41 97.77,1012.4 98.68,1012.39 99.59,1012.38 100.49,1012.36 101.4,1012.34 102.31,1012.31 103.22,1012.28 104.13,1012.25 105.03,1012.21 105.94,1012.16 106.85,1012.1 107.76,1012.03 108.67,1011.95 109.57,1011.85 110.48,1011.74 111.39,1011.61 112.3,1011.46 113.21,1011.29 114.11,1011.1 115.02,1010.88 115.93,1010.62 116.84,1010.34 117.75,1010.01 118.65,1009.65 119.56,1009.24 120.47,1008.78 121.38,1008.28 122.29,1007.72 123.19,1007.1 124.1,1006.42 125.01,1005.67 125.92,1004.86 126.83,1003.98 127.73,1003.03 128.64,1002.01 129.55,1000.92 130.46,999.75 131.37,998.51 132.27,997.2 133.18,995.82 134.09,994.37 135,992.87 135.91,991.31 136.81,989.7 137.72,988.05 138.63,986.37 139.54,984.66 140.45,982.94 141.35,981.22 142.26,979.5 143.17,977.8 144.08,976.14 144.99,974.52 145.89,972.96 146.8,971.47 147.71,970.07 148.62,968.76 149.53,967.56 150.43,966.48 151.34,965.53 152.25,964.72 153.16,964.05 154.07,963.54 154.97,963.18 155.88,962.98 156.79,962.95 157.7,963.08 158.61,963.37 159.51,963.83 160.42,964.43 161.33,965.19 162.24,966.08 163.15,967.11 164.05,968.27 164.96,969.53 165.87,970.9 166.78,972.36 167.69,973.89 168.59,975.48 169.5,977.13 170.41,978.81 171.32,980.52 172.23,982.25 173.13,983.97 174.04,985.68 174.95,987.37 175.86,989.03 176.77,990.65 177.67,992.22 178.58,993.73 179.49,995.18 180.4,996.56 181.31,997.86 182.21,999.09 183.12,1000.23 184.03,1001.28 184.94,1002.24 185.85,1003.11 186.75,1003.87 187.66,1004.52 188.57,1005.06 189.48,1005.48 190.39,1005.78 191.29,1005.94 192.2,1005.96 193.11,1005.82 194.02,1005.52 194.93,1005.04 195.83,1004.37 196.74,1003.49 197.65,1002.41 198.56,1001.09 199.47,999.53 200.37,997.73 201.28,995.68 202.19,993.36 203.1,990.79 204.01,987.97 204.91,984.91 205.82,981.62 206.73,978.13 207.64,974.47 208.55,970.66 209.45,966.76 210.36,962.81 211.27,958.85 212.18,954.96 213.09,951.17 213.99,947.57 214.9,944.2 215.81,941.12 216.72,938.39 217.63,936.06 218.53,934.18 219.44,932.77 220.35,931.87 221.26,931.5 222.17,931.67 223.07,932.36 223.98,933.57 224.89,935.27 225.8,937.44 226.71,940.02 227.61,942.97 228.52,946.25 229.43,949.78 230.34,953.52 231.25,957.4 232.15,961.36 233.06,965.35 233.97,969.31 234.88,973.2 235.79,976.98 236.69,980.6 237.6,984.04 238.51,987.28 239.42,990.29 240.33,993.08 241.23,995.62 242.14,997.93 243.05,1000 243.96,1001.85 244.87,1003.48 245.77,1004.91 246.68,1006.16 247.59,1007.23 248.5,1008.15 249.41,1008.93 250.31,1009.59 251.22,1010.14 252.13,1010.59 253.04,1010.97 253.95,1011.28 254.85,1011.53 255.76,1011.73 256.67,1011.89 257.58,1012.02 258.49,1012.12 259.39,1012.2 260.3,1012.26 261.21,1012.31 262.12,1012.34 263.03,1012.37 263.93,1012.39 264.84,1012.41 265.75,1012.42 266.66,1012.43 267.57,1012.43 268.47,1012.44 269.38,1012.44 270.29,1012.44 271.2,1012.45 272.11,1012.45 273.01,1012.45 273.92,1012.45 274.83,1012.45 275.74,1012.45 276.65,1012.45 277.55,1012.45 278.46,1012.45 279.37,1012.45 280.28,1012.45 281.19,1012.45 282.09,1012.45 283,1012.45 283.91,1012.45 284.82,1012.45 285.73,1012.45 286.63,1012.45 287.54,1012.45 288.45,1012.45 289.36,1012.45 290.27,1012.45 291.17,1012.45 292.08,1012.45 292.99,1012.45"/>
<polyline clip-path="url(#cqg)" fill="none" stroke="#ecb02b" stroke-width="2.5" stroke-linejoin="round" stroke-linecap="round" points="61.45,748.3 62.36,813.24 63.27,917.71 64.17,955.37 65.08,973.6 65.99,983.97 66.9,990.49 67.81,994.89 68.71,998.02 69.62,1000.33 70.53,1002.09 71.44,1003.47 72.35,1004.57 73.25,1005.47 74.16,1006.2 75.07,1006.82 75.98,1007.33 76.89,1007.77 77.79,1008.15 78.7,1008.47 79.61,1008.75 80.52,1009 81.43,1009.21 82.33,1009.39 83.24,1009.55 84.15,1009.69 85.06,1009.81 85.97,1009.91 86.87,1010 87.78,1010.07 88.69,1010.12 89.6,1010.17 90.51,1010.2 91.41,1010.21 92.32,1010.22 93.23,1010.21 94.14,1010.19 95.05,1010.16 95.95,1010.12 96.86,1010.06 97.77,1009.99 98.68,1009.91 99.59,1009.81 100.49,1009.7 101.4,1009.57 102.31,1009.43 103.22,1009.28 104.13,1009.1 105.03,1008.91 105.94,1008.71 106.85,1008.48 107.76,1008.24 108.67,1007.97 109.57,1007.69 110.48,1007.39 111.39,1007.06 112.3,1006.72 113.21,1006.35 114.11,1005.96 115.02,1005.55 115.93,1005.12 116.84,1004.66 117.75,1004.18 118.65,1003.68 119.56,1003.16 120.47,1002.62 121.38,1002.05 122.29,1001.46 123.19,1000.85 124.1,1000.22 125.01,999.57 125.92,998.91 126.83,998.22 127.73,997.52 128.64,996.81 129.55,996.08 130.46,995.35 131.37,994.6 132.27,993.84 133.18,993.08 134.09,992.32 135,991.55 135.91,990.78 136.81,990.02 137.72,989.27 138.63,988.52 139.54,987.78 140.45,987.06 141.35,986.35 142.26,985.66 143.17,984.99 144.08,984.34 144.99,983.72 145.89,983.13 146.8,982.57 147.71,982.05 148.62,981.55 149.53,981.1 150.43,980.68 151.34,980.31 152.25,979.98 153.16,979.69 154.07,979.44 154.97,979.24 155.88,979.09 156.79,978.99 157.7,978.93 158.61,978.91 159.51,978.95 160.42,979.03 161.33,979.16 162.24,979.33 163.15,979.55 164.05,979.81 164.96,980.1 165.87,980.44 166.78,980.82 167.69,981.23 168.59,981.67 169.5,982.14 170.41,982.63 171.32,983.15 172.23,983.7 173.13,984.25 174.04,984.83 174.95,985.41 175.86,986 176.77,986.6 177.67,987.2 178.58,987.79 179.49,988.38 180.4,988.96 181.31,989.52 182.21,990.07 183.12,990.6 184.03,991.11 184.94,991.59 185.85,992.04 186.75,992.46 187.66,992.85 188.57,993.2 189.48,993.51 190.39,993.78 191.29,994 192.2,994.18 193.11,994.32 194.02,994.41 194.93,994.45 195.83,994.44 196.74,994.38 197.65,994.27 198.56,994.11 199.47,993.9 200.37,993.64 201.28,993.33 202.19,992.97 203.1,992.57 204.01,992.13 204.91,991.64 205.82,991.12 206.73,990.55 207.64,989.95 208.55,989.32 209.45,988.66 210.36,987.97 211.27,987.26 212.18,986.53 213.09,985.79 213.99,985.04 214.9,984.28 215.81,983.51 216.72,982.75 217.63,982 218.53,981.25 219.44,980.52 220.35,979.8 221.26,979.11 222.17,978.45 223.07,977.82 223.98,977.22 224.89,976.66 225.8,976.14 226.71,975.66 227.61,975.24 228.52,974.86 229.43,974.54 230.34,974.27 231.25,974.06 232.15,973.91 233.06,973.82 233.97,973.78 234.88,973.81 235.79,973.9 236.69,974.06 237.6,974.27 238.51,974.54 239.42,974.88 240.33,975.27 241.23,975.71 242.14,976.21 243.05,976.76 243.96,977.36 244.87,978.01 245.77,978.7 246.68,979.43 247.59,980.2 248.5,981 249.41,981.84 250.31,982.7 251.22,983.58 252.13,984.48 253.04,985.4 253.95,986.34 254.85,987.28 255.76,988.23 256.67,989.18 257.58,990.13 258.49,991.08 259.39,992.02 260.3,992.95 261.21,993.87 262.12,994.78 263.03,995.67 263.93,996.54 264.84,997.39 265.75,998.21 266.66,999.02 267.57,999.8 268.47,1000.55 269.38,1001.28 270.29,1001.98 271.2,1002.65 272.11,1003.3 273.01,1003.91 273.92,1004.5 274.83,1005.06 275.74,1005.59 276.65,1006.09 277.55,1006.57 278.46,1007.02 279.37,1007.44 280.28,1007.83 281.19,1008.21 282.09,1008.55 283,1008.88 283.91,1009.18 284.82,1009.46 285.73,1009.72 286.63,1009.96 287.54,1010.19 288.45,1010.39 289.36,1010.59 290.27,1010.76 291.17,1010.92 292.08,1011.07 292.99,1011.2"/>
<path d="M60.45 879.9h25.11" stroke="#fff" stroke-opacity="0.16" stroke-width="0.7"/>
<text class="tk" text-anchor="middle" transform="translate(61.45 1023.65) scale(0.94 1)">0</text>
<text class="tk" text-anchor="middle" transform="translate(106.85 1023.65) scale(0.94 1)">50</text>
<text class="tk" text-anchor="middle" transform="translate(152.25 1023.65) scale(0.94 1)">100</text>
<text class="tk" text-anchor="middle" transform="translate(197.65 1023.65) scale(0.94 1)">150</text>
<text class="tk" text-anchor="middle" transform="translate(243.05 1023.65) scale(0.94 1)">200</text>
<text class="tk" text-anchor="middle" transform="translate(288.45 1023.65) scale(0.94 1)">250</text>
<text class="tk" text-anchor="end" transform="translate(46.64 1015.55) scale(0.94 1)">0</text>
<text class="tk" text-anchor="end" transform="translate(46.64 995.14) scale(0.94 1)">0.002</text>
<text class="tk" text-anchor="end" transform="translate(46.64 974.72) scale(0.94 1)">0.004</text>
<text class="tk" text-anchor="end" transform="translate(46.64 954.31) scale(0.94 1)">0.006</text>
<text class="tk" text-anchor="end" transform="translate(46.64 933.89) scale(0.94 1)">0.008</text>
<text class="tk" text-anchor="end" transform="translate(46.64 913.48) scale(0.94 1)">0.01</text>
<text class="tk" text-anchor="end" transform="translate(46.64 893.06) scale(0.94 1)">0.012</text>
<text class="tk" text-anchor="end" transform="translate(46.64 872.64) scale(0.94 1)">0.014</text>
<text class="tk" text-anchor="end" transform="translate(46.64 852.23) scale(0.94 1)">0.016</text>
<text class="tk" text-anchor="end" transform="translate(46.64 831.81) scale(0.94 1)">0.018</text>
<text class="tk" text-anchor="end" transform="translate(46.64 811.4) scale(0.94 1)">0.02</text>
<text class="lb" text-anchor="middle" x="179.12" y="1035.35">grey levels</text>
<text class="lb yl" text-anchor="middle" transform="translate(22.04 910.27) rotate(-90)">hitogram</text>
<rect x="231.8" y="814.7" width="70.8" height="31.4" fill="#fff" stroke="#262626" stroke-width="0.5"/>
<rect x="234.3" y="816.9" width="24" height="7.2" fill="#5aa5d5" stroke="#1f2d3a" stroke-width="0.6"/>
<path d="M234.3 830h23.8" stroke="#da5920" stroke-width="2.5"/>
<path d="M234.3 839.9h23.8" stroke="#ecb02b" stroke-width="2.5"/>
<g class="lg"><text x="260.2" y="823">Histogram</text><text x="260.2" y="832.5">GMM</text><text x="260.2" y="842.5"><tspan class="al">α</tspan>-StableMM</text></g>
<text class="cap" text-anchor="middle" x="166.7" y="1053.6">(g) test 15</text>
</g>
<g id="plot-h">
<clipPath id="cph"><rect x="391.4" y="808.3" width="258.26" height="204.15"/></clipPath>
<clipPath id="cqh"><rect x="390.4" y="807.7" width="260.26" height="205.95"/></clipPath>
<path d="M391.4 808.3H649.66V1012.45H391.4ZM400.95 1012.45v-2.6M400.95 808.3v2.6M442.4 1012.45v-2.6M442.4 808.3v2.6M483.85 1012.45v-2.6M483.85 808.3v2.6M525.3 1012.45v-2.6M525.3 808.3v2.6M566.75 1012.45v-2.6M566.75 808.3v2.6M608.2 1012.45v-2.6M608.2 808.3v2.6M649.65 1012.45v-2.6M649.65 808.3v2.6M391.4 992.04h2.6M649.66 992.04h-2.6M391.4 971.62h2.6M649.66 971.62h-2.6M391.4 951.21h2.6M649.66 951.21h-2.6M391.4 930.79h2.6M649.66 930.79h-2.6M391.4 910.38h2.6M649.66 910.38h-2.6M391.4 889.96h2.6M649.66 889.96h-2.6M391.4 869.54h2.6M649.66 869.54h-2.6M391.4 849.13h2.6M649.66 849.13h-2.6M391.4 828.71h2.6M649.66 828.71h-2.6" stroke="#262626" stroke-width="0.5" fill="none"/>
<g clip-path="url(#cph)" fill="#5aa5d5" stroke="#1f2d3a" stroke-width="0.6">
<rect x="400.95" y="706.22" width="19.9" height="306.23"/>
<rect x="420.85" y="1004.28" width="19.9" height="8.17"/>
<rect x="440.74" y="995.1" width="19.9" height="17.35"/>
<rect x="460.64" y="989.99" width="19.9" height="22.46"/>
<rect x="480.53" y="984.89" width="19.9" height="27.56"/>
<rect x="500.43" y="984.38" width="19.9" height="28.07"/>
<rect x="520.33" y="983.87" width="19.9" height="28.58"/>
<rect x="540.22" y="978.77" width="19.9" height="33.68"/>
<rect x="560.12" y="971.11" width="19.9" height="41.34"/>
<rect x="580.01" y="1002.24" width="19.9" height="10.21"/>
</g>
<path d="M400.95 1012.45H599.91M400.95 1012.45v-2.6M442.4 1012.45v-2.6M483.85 1012.45v-2.6M525.3 1012.45v-2.6M566.75 1012.45v-2.6" stroke="#262626" stroke-opacity="0.45" stroke-width="0.5" fill="none"/>
<polyline clip-path="url(#cqh)" fill="none" stroke="#da5920" stroke-width="2.5" stroke-linejoin="round" stroke-linecap="round" points="401.9,748.3 401.94,1012.45 403.44,1012.45 404.27,1012.45 405.09,1012.45 405.92,1012.45 406.75,1012.45 407.58,1012.45 408.41,1012.45 409.24,1012.45 410.07,1012.45 410.9,1012.45 411.73,1012.45 412.56,1012.45 413.38,1012.45 414.21,1012.45 415.04,1012.45 415.87,1012.45 416.7,1012.45 417.53,1012.45 418.36,1012.45 419.19,1012.45 420.02,1012.45 420.85,1012.45 421.68,1012.45 422.5,1012.45 423.33,1012.45 424.16,1012.45 424.99,1012.45 425.82,1012.45 426.65,1012.45 427.48,1012.45 428.31,1012.45 429.14,1012.45 429.96,1012.45 430.79,1012.45 431.62,1012.45 432.45,1012.44 433.28,1012.44 434.11,1012.44 434.94,1012.44 435.77,1012.43 436.6,1012.43 437.43,1012.42 438.25,1012.41 439.08,1012.4 439.91,1012.39 440.74,1012.38 441.57,1012.36 442.4,1012.33 443.23,1012.31 444.06,1012.27 444.89,1012.23 445.72,1012.18 446.54,1012.12 447.37,1012.04 448.2,1011.96 449.03,1011.85 449.86,1011.73 450.69,1011.58 451.52,1011.41 452.35,1011.21 453.18,1010.98 454.01,1010.71 454.83,1010.4 455.66,1010.04 456.49,1009.63 457.32,1009.17 458.15,1008.64 458.98,1008.05 459.81,1007.39 460.64,1006.65 461.47,1005.83 462.3,1004.92 463.12,1003.92 463.95,1002.83 464.78,1001.64 465.61,1000.35 466.44,998.96 467.27,997.46 468.1,995.87 468.93,994.19 469.76,992.41 470.59,990.54 471.41,988.6 472.24,986.58 473.07,984.51 473.9,982.39 474.73,980.23 475.56,978.06 476.39,975.88 477.22,973.73 478.05,971.6 478.88,969.53 479.7,967.53 480.53,965.63 481.36,963.84 482.19,962.17 483.02,960.66 483.85,959.31 484.68,958.14 485.51,957.17 486.34,956.4 487.17,955.84 488,955.5 488.82,955.39 489.65,955.5 490.48,955.84 491.31,956.4 492.14,957.17 492.97,958.14 493.8,959.31 494.63,960.65 495.46,962.17 496.28,963.83 497.11,965.62 497.94,967.52 498.77,969.51 499.6,971.57 500.43,973.69 501.26,975.83 502.09,977.99 502.92,980.15 503.75,982.28 504.57,984.37 505.4,986.4 506.23,988.37 507.06,990.25 507.89,992.04 508.72,993.73 509.55,995.3 510.38,996.76 511.21,998.09 512.04,999.28 512.87,1000.33 513.69,1001.24 514.52,1002 515.35,1002.61 516.18,1003.06 517.01,1003.35 517.84,1003.47 518.67,1003.42 519.5,1003.19 520.33,1002.79 521.15,1002.2 521.98,1001.42 522.81,1000.45 523.64,999.28 524.47,997.92 525.3,996.35 526.13,994.59 526.96,992.63 527.79,990.47 528.62,988.13 529.44,985.6 530.27,982.91 531.1,980.06 531.93,977.07 532.76,973.97 533.59,970.77 534.42,967.5 535.25,964.19 536.08,960.88 536.91,957.58 537.74,954.35 538.56,951.22 539.39,948.22 540.22,945.39 541.05,942.76 541.88,940.37 542.71,938.26 543.54,936.44 544.37,934.94 545.2,933.79 546.02,933.01 546.85,932.59 547.68,932.55 548.51,932.89 549.34,933.61 550.17,934.69 551,936.12 551.83,937.88 552.66,939.94 553.49,942.28 554.31,944.87 555.14,947.67 555.97,950.65 556.8,953.77 557.63,957 558.46,960.3 559.29,963.64 560.12,966.98 560.95,970.29 561.78,973.55 562.61,976.72 563.43,979.79 564.26,982.74 565.09,985.55 565.92,988.21 566.75,990.72 567.58,993.05 568.41,995.22 569.24,997.21 570.07,999.04 570.89,1000.71 571.72,1002.22 572.55,1003.57 573.38,1004.79 574.21,1005.87 575.04,1006.82 575.87,1007.66 576.7,1008.39 577.53,1009.03 578.36,1009.58 579.18,1010.05 580.01,1010.46 580.84,1010.8 581.67,1011.09 582.5,1011.34 583.33,1011.54 584.16,1011.71 584.99,1011.86 585.82,1011.97 586.65,1012.07 587.47,1012.15 588.3,1012.21 589.13,1012.26 589.96,1012.3 590.79,1012.33 591.62,1012.36 592.45,1012.38 593.28,1012.4 594.11,1012.41 594.94,1012.42 595.76,1012.43 596.59,1012.43 597.42,1012.44 598.25,1012.44 599.08,1012.44 599.91,1012.44 600.74,1012.45 601.57,1012.45 602.4,1012.45 603.23,1012.45 604.05,1012.45 604.88,1012.45 605.71,1012.45 606.54,1012.45 607.37,1012.45 608.2,1012.45 609.03,1012.45 609.86,1012.45 610.69,1012.45 611.52,1012.45 612.35,1012.45"/>
<polyline clip-path="url(#cqh)" fill="none" stroke="#ecb02b" stroke-width="2.5" stroke-linejoin="round" stroke-linecap="round" points="400.95,748.3 401.78,837.19 402.61,938.55 403.44,970.63 404.27,985.12 405.09,992.99 405.92,997.78 406.75,1000.94 407.58,1003.13 408.41,1004.73 409.24,1005.93 410.07,1006.86 410.9,1007.59 411.73,1008.18 412.56,1008.66 413.38,1009.06 414.21,1009.39 415.04,1009.67 415.87,1009.91 416.7,1010.11 417.53,1010.29 418.36,1010.44 419.19,1010.57 420.02,1010.68 420.85,1010.78 421.68,1010.86 422.5,1010.93 423.33,1010.99 424.16,1011.04 424.99,1011.07 425.82,1011.1 426.65,1011.12 427.48,1011.13 428.31,1011.12 429.14,1011.11 429.96,1011.09 430.79,1011.06 431.62,1011.02 432.45,1010.96 433.28,1010.9 434.11,1010.82 434.94,1010.73 435.77,1010.63 436.6,1010.52 437.43,1010.38 438.25,1010.24 439.08,1010.07 439.91,1009.89 440.74,1009.69 441.57,1009.47 442.4,1009.24 443.23,1008.97 444.06,1008.69 444.89,1008.39 445.72,1008.06 446.54,1007.7 447.37,1007.32 448.2,1006.92 449.03,1006.48 449.86,1006.02 450.69,1005.53 451.52,1005.01 452.35,1004.47 453.18,1003.89 454.01,1003.29 454.83,1002.66 455.66,1002 456.49,1001.31 457.32,1000.6 458.15,999.86 458.98,999.09 459.81,998.3 460.64,997.49 461.47,996.66 462.3,995.82 463.12,994.95 463.95,994.08 464.78,993.19 465.61,992.29 466.44,991.39 467.27,990.49 468.1,989.59 468.93,988.69 469.76,987.81 470.59,986.93 471.41,986.07 472.24,985.23 473.07,984.41 473.9,983.62 474.73,982.86 475.56,982.14 476.39,981.45 477.22,980.8 478.05,980.2 478.88,979.64 479.7,979.13 480.53,978.68 481.36,978.28 482.19,977.93 483.02,977.65 483.85,977.42 484.68,977.25 485.51,977.15 486.34,977.11 487.17,977.12 488,977.2 488.82,977.35 489.65,977.54 490.48,977.8 491.31,978.11 492.14,978.48 492.97,978.9 493.8,979.36 494.63,979.88 495.46,980.43 496.28,981.02 497.11,981.64 497.94,982.3 498.77,982.98 499.6,983.68 500.43,984.4 501.26,985.13 502.09,985.86 502.92,986.6 503.75,987.34 504.57,988.07 505.4,988.79 506.23,989.49 507.06,990.18 507.89,990.83 508.72,991.46 509.55,992.06 510.38,992.61 511.21,993.13 512.04,993.6 512.87,994.02 513.69,994.39 514.52,994.71 515.35,994.97 516.18,995.18 517.01,995.32 517.84,995.4 518.67,995.41 519.5,995.36 520.33,995.25 521.15,995.07 521.98,994.82 522.81,994.51 523.64,994.13 524.47,993.68 525.3,993.18 526.13,992.61 526.96,991.98 527.79,991.29 528.62,990.55 529.44,989.75 530.27,988.91 531.1,988.02 531.93,987.08 532.76,986.11 533.59,985.11 534.42,984.08 535.25,983.02 536.08,981.94 536.91,980.85 537.74,979.75 538.56,978.64 539.39,977.54 540.22,976.44 541.05,975.36 541.88,974.3 542.71,973.26 543.54,972.25 544.37,971.28 545.2,970.35 546.02,969.47 546.85,968.63 547.68,967.85 548.51,967.14 549.34,966.48 550.17,965.9 551,965.39 551.83,964.95 552.66,964.59 553.49,964.31 554.31,964.11 555.14,963.99 555.97,963.96 556.8,964.02 557.63,964.17 558.46,964.42 559.29,964.76 560.12,965.19 560.95,965.72 561.78,966.33 562.61,967.02 563.43,967.79 564.26,968.64 565.09,969.55 565.92,970.54 566.75,971.58 567.58,972.67 568.41,973.81 569.24,975 570.07,976.22 570.89,977.47 571.72,978.75 572.55,980.04 573.38,981.35 574.21,982.67 575.04,983.98 575.87,985.3 576.7,986.6 577.53,987.89 578.36,989.16 579.18,990.41 580.01,991.64 580.84,992.84 581.67,994 582.5,995.13 583.33,996.23 584.16,997.28 584.99,998.29 585.82,999.27 586.65,1000.2 587.47,1001.09 588.3,1001.93 589.13,1002.73 589.96,1003.49 590.79,1004.2 591.62,1004.88 592.45,1005.51 593.28,1006.1 594.11,1006.65 594.94,1007.17 595.76,1007.65 596.59,1008.09 597.42,1008.5 598.25,1008.88 599.08,1009.23 599.91,1009.55 600.74,1009.84 601.57,1010.11 602.4,1010.35 603.23,1010.57 604.05,1010.78 604.88,1010.96 605.71,1011.12 606.54,1011.27 607.37,1011.41 608.2,1011.53 609.03,1011.63 609.86,1011.73 610.69,1011.81 611.52,1011.89 612.35,1011.96"/>
<path d="M399.95 879.9h21.4" stroke="#fff" stroke-opacity="0.16" stroke-width="0.7"/>
<text class="tk" text-anchor="middle" transform="translate(400.95 1023.65) scale(0.94 1)">0</text>
<text class="tk" text-anchor="middle" transform="translate(442.4 1023.65) scale(0.94 1)">50</text>
<text class="tk" text-anchor="middle" transform="translate(483.85 1023.65) scale(0.94 1)">100</text>
<text class="tk" text-anchor="middle" transform="translate(525.3 1023.65) scale(0.94 1)">150</text>
<text class="tk" text-anchor="middle" transform="translate(566.75 1023.65) scale(0.94 1)">200</text>
<text class="tk" text-anchor="middle" transform="translate(608.2 1023.65) scale(0.94 1)">250</text>
<text class="tk" text-anchor="middle" transform="translate(649.65 1023.65) scale(0.94 1)">300</text>
<text class="tk" text-anchor="end" transform="translate(388.4 1015.55) scale(0.94 1)">0</text>
<text class="tk" text-anchor="end" transform="translate(388.4 995.14) scale(0.94 1)">0.002</text>
<text class="tk" text-anchor="end" transform="translate(388.4 974.72) scale(0.94 1)">0.004</text>
<text class="tk" text-anchor="end" transform="translate(388.4 954.31) scale(0.94 1)">0.006</text>
<text class="tk" text-anchor="end" transform="translate(388.4 933.89) scale(0.94 1)">0.008</text>
<text class="tk" text-anchor="end" transform="translate(388.4 913.48) scale(0.94 1)">0.01</text>
<text class="tk" text-anchor="end" transform="translate(388.4 893.06) scale(0.94 1)">0.012</text>
<text class="tk" text-anchor="end" transform="translate(388.4 872.64) scale(0.94 1)">0.014</text>
<text class="tk" text-anchor="end" transform="translate(388.4 852.23) scale(0.94 1)">0.016</text>
<text class="tk" text-anchor="end" transform="translate(388.4 831.81) scale(0.94 1)">0.018</text>
<text class="tk" text-anchor="end" transform="translate(388.4 811.4) scale(0.94 1)">0.02</text>
<text class="lb" text-anchor="middle" x="520.53" y="1035.35">grey levels</text>
<text class="lb yl" text-anchor="middle" transform="translate(363.8 910.27) rotate(-90)">hitogram</text>
<rect x="572.86" y="814.7" width="70.8" height="31.4" fill="#fff" stroke="#262626" stroke-width="0.5"/>
<rect x="575.36" y="816.9" width="24" height="7.2" fill="#5aa5d5" stroke="#1f2d3a" stroke-width="0.6"/>
<path d="M575.36 830h23.8" stroke="#da5920" stroke-width="2.5"/>
<path d="M575.36 839.9h23.8" stroke="#ecb02b" stroke-width="2.5"/>
<g class="lg"><text x="601.26" y="823">Histogram</text><text x="601.26" y="832.5">GMM</text><text x="601.26" y="842.5"><tspan class="al">α</tspan>-StableMM</text></g>
<text class="cap" text-anchor="middle" x="511" y="1053.6">(h) test 16</text>
</g>
</svg></body></html>
